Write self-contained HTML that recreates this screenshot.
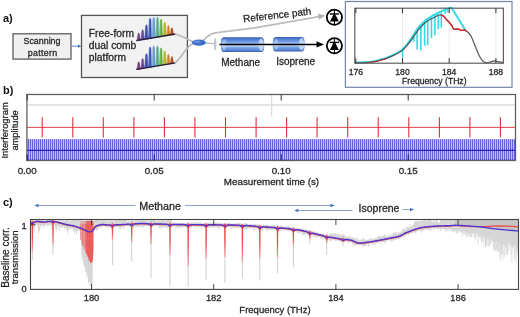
<!DOCTYPE html>
<html><head><meta charset="utf-8"><title>Dual comb spectroscopy figure</title>
<style>html,body{margin:0;padding:0;background:#fff;width:520px;height:317px;overflow:hidden}svg{display:block}text{stroke:#2a2a2a;stroke-width:0.28px}</style>
</head><body>
<svg width="520" height="317" viewBox="0 0 520 317"><defs>
<linearGradient id="cellg" x1="0" y1="0" x2="0" y2="1">
<stop offset="0" stop-color="#3a5cae"/><stop offset="0.08" stop-color="#4670c4"/><stop offset="0.2" stop-color="#5a88d8"/><stop offset="0.36" stop-color="#7ea6ea"/><stop offset="0.45" stop-color="#a0c2f2"/><stop offset="0.56" stop-color="#c4daf8"/><stop offset="0.63" stop-color="#a2c2f0"/><stop offset="0.72" stop-color="#70a0e2"/><stop offset="0.88" stop-color="#5a86d4"/><stop offset="0.95" stop-color="#4468b8"/><stop offset="1" stop-color="#3656a8"/>
</linearGradient>
<linearGradient id="redg" x1="0" y1="0" x2="0" y2="1"><stop offset="0" stop-color="#ee3a3a"/><stop offset="0.55" stop-color="#f05050"/><stop offset="1" stop-color="#f4a4a4"/></linearGradient>
<pattern id="stripes" x="0" y="0" width="2" height="30" patternUnits="userSpaceOnUse">
<rect width="2" height="30" fill="#c0c0f8"/><rect width="1" height="30" fill="#6464d8"/>
</pattern>
</defs><rect width="520" height="317" fill="#fff"/><text x="3" y="21.6" font-family="Liberation Sans, Arial, sans-serif" font-size="11" font-weight="bold" fill="#111" style="stroke:none">a)</text>
<rect x="13" y="33.8" width="58" height="25.3" fill="#f0f0f0" stroke="#5e5e5e" stroke-width="1.3"/>
<text x="42" y="44.3" font-family="Liberation Sans, Arial, sans-serif" font-size="8.9" fill="#222" text-anchor="middle">Scanning</text>
<text x="42.6" y="55.6" font-family="Liberation Sans, Arial, sans-serif" font-size="8.9" fill="#222" text-anchor="middle" letter-spacing="0.3">pattern</text>
<line x1="72" y1="46.2" x2="79" y2="46.2" stroke="#4a78c0" stroke-width="0.9"/>
<polygon points="81.3,46.2 78,44.6 78,47.8" fill="#3a6cc0"/>
<rect x="81.5" y="15.4" width="105.9" height="62.1" fill="#f2f2f2" stroke="#555" stroke-width="1.3"/>
<text x="88.8" y="36.6" font-family="Liberation Sans, Arial, sans-serif" font-size="10.3" fill="#222">Free-form</text>
<text x="88.8" y="48.6" font-family="Liberation Sans, Arial, sans-serif" font-size="10.3" fill="#222">dual comb</text>
<text x="88.8" y="60.6" font-family="Liberation Sans, Arial, sans-serif" font-size="10.3" fill="#222">platform</text>
<path d="M136.7,40.6 C137.3,38.1 137.5,36.4 137.8,34.4 Q138.7,31.2 139.6,34.4 C139.9,36.4 140.1,38.1 140.7,40.6 Z" fill="#7a4a7e" stroke="#7a4a7e" stroke-width="0.3"/><line x1="139.0" y1="33.9" x2="139.0" y2="40.1" stroke="#000" stroke-opacity="0.22" stroke-width="0.8"/><path d="M140.6,39.9 C141.2,37.4 141.4,33.0 141.7,31.0 Q142.6,27.8 143.5,31.0 C143.8,33.0 144.0,37.4 144.6,39.9 Z" fill="#7452a6" stroke="#7452a6" stroke-width="0.3"/><line x1="142.9" y1="30.5" x2="142.9" y2="39.4" stroke="#000" stroke-opacity="0.22" stroke-width="0.8"/><path d="M144.4,39.3 C145.0,36.8 145.2,28.2 145.5,26.2 Q146.4,23.0 147.3,26.2 C147.6,28.2 147.8,36.8 148.4,39.3 Z" fill="#4c56b6" stroke="#4c56b6" stroke-width="0.3"/><line x1="146.8" y1="25.7" x2="146.8" y2="38.8" stroke="#000" stroke-opacity="0.22" stroke-width="0.8"/><path d="M148.1,38.7 C148.7,36.2 148.9,21.5 149.2,19.5 Q150.1,16.3 151.0,19.5 C151.3,21.5 151.5,36.2 152.1,38.7 Z" fill="#4466c4" stroke="#4466c4" stroke-width="0.3"/><line x1="150.4" y1="19.0" x2="150.4" y2="38.2" stroke="#000" stroke-opacity="0.22" stroke-width="0.8"/><path d="M151.7,38.1 C152.3,35.6 152.5,20.5 152.8,18.5 Q153.7,15.3 154.6,18.5 C154.9,20.5 155.1,35.6 155.7,38.1 Z" fill="#7aa8e0" stroke="#7aa8e0" stroke-width="0.3"/><line x1="154.0" y1="18.0" x2="154.0" y2="37.6" stroke="#000" stroke-opacity="0.22" stroke-width="0.8"/><path d="M155.4,37.4 C156.0,34.9 156.2,20.5 156.5,18.5 Q157.4,15.3 158.3,18.5 C158.6,20.5 158.8,34.9 159.4,37.4 Z" fill="#62bc9c" stroke="#62bc9c" stroke-width="0.3"/><line x1="157.8" y1="18.0" x2="157.8" y2="36.9" stroke="#000" stroke-opacity="0.22" stroke-width="0.8"/><path d="M159.0,36.8 C159.6,34.3 159.8,22.4 160.1,20.4 Q161.0,17.2 161.9,20.4 C162.2,22.4 162.4,34.3 163.0,36.8 Z" fill="#78c058" stroke="#78c058" stroke-width="0.3"/><line x1="161.3" y1="19.9" x2="161.3" y2="36.3" stroke="#000" stroke-opacity="0.22" stroke-width="0.8"/><path d="M162.7,36.2 C163.3,33.7 163.5,25.3 163.8,23.3 Q164.7,20.1 165.6,23.3 C165.9,25.3 166.1,33.7 166.7,36.2 Z" fill="#bcc844" stroke="#bcc844" stroke-width="0.3"/><line x1="165.0" y1="22.8" x2="165.0" y2="35.7" stroke="#000" stroke-opacity="0.22" stroke-width="0.8"/><path d="M166.3,35.6 C166.9,33.1 167.1,28.7 167.4,26.7 Q168.3,23.5 169.2,26.7 C169.5,28.7 169.7,33.1 170.3,35.6 Z" fill="#e09a34" stroke="#e09a34" stroke-width="0.3"/><line x1="168.7" y1="26.2" x2="168.7" y2="35.1" stroke="#000" stroke-opacity="0.22" stroke-width="0.8"/><path d="M169.9,35.0 C170.5,32.5 170.7,31.1 171.0,29.1 Q171.9,25.9 172.8,29.1 C173.1,31.1 173.3,32.5 173.9,35.0 Z" fill="#c85430" stroke="#c85430" stroke-width="0.3"/><line x1="172.2" y1="28.6" x2="172.2" y2="34.5" stroke="#000" stroke-opacity="0.22" stroke-width="0.8"/><line x1="136.3" y1="40.6" x2="175.3" y2="34.0" stroke="#2a1a3a" stroke-width="1.3"/>
<path d="M136.7,69.4 C137.3,66.9 137.5,65.2 137.8,63.2 Q138.7,60.0 139.6,63.2 C139.9,65.2 140.1,66.9 140.7,69.4 Z" fill="#7a4a7e" stroke="#7a4a7e" stroke-width="0.3"/><line x1="139.0" y1="62.7" x2="139.0" y2="68.9" stroke="#000" stroke-opacity="0.22" stroke-width="0.8"/><path d="M140.6,68.7 C141.2,66.2 141.4,61.8 141.7,59.8 Q142.6,56.6 143.5,59.8 C143.8,61.8 144.0,66.2 144.6,68.7 Z" fill="#7452a6" stroke="#7452a6" stroke-width="0.3"/><line x1="142.9" y1="59.3" x2="142.9" y2="68.2" stroke="#000" stroke-opacity="0.22" stroke-width="0.8"/><path d="M144.4,68.1 C145.0,65.6 145.2,57.0 145.5,55.0 Q146.4,51.8 147.3,55.0 C147.6,57.0 147.8,65.6 148.4,68.1 Z" fill="#4c56b6" stroke="#4c56b6" stroke-width="0.3"/><line x1="146.8" y1="54.5" x2="146.8" y2="67.6" stroke="#000" stroke-opacity="0.22" stroke-width="0.8"/><path d="M148.1,67.5 C148.7,65.0 148.9,50.3 149.2,48.3 Q150.1,45.1 151.0,48.3 C151.3,50.3 151.5,65.0 152.1,67.5 Z" fill="#4466c4" stroke="#4466c4" stroke-width="0.3"/><line x1="150.4" y1="47.8" x2="150.4" y2="67.0" stroke="#000" stroke-opacity="0.22" stroke-width="0.8"/><path d="M151.7,66.9 C152.3,64.4 152.5,49.3 152.8,47.3 Q153.7,44.1 154.6,47.3 C154.9,49.3 155.1,64.4 155.7,66.9 Z" fill="#7aa8e0" stroke="#7aa8e0" stroke-width="0.3"/><line x1="154.0" y1="46.8" x2="154.0" y2="66.4" stroke="#000" stroke-opacity="0.22" stroke-width="0.8"/><path d="M155.4,66.2 C156.0,63.7 156.2,49.3 156.5,47.3 Q157.4,44.1 158.3,47.3 C158.6,49.3 158.8,63.7 159.4,66.2 Z" fill="#62bc9c" stroke="#62bc9c" stroke-width="0.3"/><line x1="157.8" y1="46.8" x2="157.8" y2="65.7" stroke="#000" stroke-opacity="0.22" stroke-width="0.8"/><path d="M159.0,65.6 C159.6,63.1 159.8,51.2 160.1,49.2 Q161.0,46.0 161.9,49.2 C162.2,51.2 162.4,63.1 163.0,65.6 Z" fill="#78c058" stroke="#78c058" stroke-width="0.3"/><line x1="161.3" y1="48.7" x2="161.3" y2="65.1" stroke="#000" stroke-opacity="0.22" stroke-width="0.8"/><path d="M162.7,65.0 C163.3,62.5 163.5,54.1 163.8,52.1 Q164.7,48.9 165.6,52.1 C165.9,54.1 166.1,62.5 166.7,65.0 Z" fill="#bcc844" stroke="#bcc844" stroke-width="0.3"/><line x1="165.0" y1="51.6" x2="165.0" y2="64.5" stroke="#000" stroke-opacity="0.22" stroke-width="0.8"/><path d="M166.3,64.4 C166.9,61.9 167.1,57.5 167.4,55.5 Q168.3,52.3 169.2,55.5 C169.5,57.5 169.7,61.9 170.3,64.4 Z" fill="#e09a34" stroke="#e09a34" stroke-width="0.3"/><line x1="168.7" y1="55.0" x2="168.7" y2="63.9" stroke="#000" stroke-opacity="0.22" stroke-width="0.8"/><path d="M169.9,63.8 C170.5,61.3 170.7,59.9 171.0,57.9 Q171.9,54.7 172.8,57.9 C173.1,59.9 173.3,61.3 173.9,63.8 Z" fill="#c85430" stroke="#c85430" stroke-width="0.3"/><line x1="172.2" y1="57.4" x2="172.2" y2="63.3" stroke="#000" stroke-opacity="0.22" stroke-width="0.8"/><line x1="136.3" y1="69.4" x2="175.3" y2="62.8" stroke="#2a1a3a" stroke-width="1.3"/>
<path d="M175,34 C183,36 188,40 193,41.6" fill="none" stroke="#bababa" stroke-width="1.7"/>
<path d="M175,62.8 C182,58 186,46 193,43.8" fill="none" stroke="#bababa" stroke-width="1.7"/>
<path d="M203,40.5 C208,36 211,33 217,32.6 L255,27.8 L319,16.6" fill="none" stroke="#bcbcbc" stroke-width="1.8"/>
<polygon points="325.5,15.6 317.8,13.4 319,19.8" fill="#b4b4b4"/>
<line x1="205" y1="43.2" x2="214" y2="43.6" stroke="#b8b8b8" stroke-width="1.3"/>
<ellipse cx="198.9" cy="42.6" rx="7" ry="3.1" fill="#3d6cc6"/>
<ellipse cx="197.5" cy="41.8" rx="3.5" ry="1.2" fill="#7aa0e0" opacity="0.7"/>
<ellipse cx="215.2" cy="44" rx="0.9" ry="6" fill="#c8ccd4" stroke="#9aa" stroke-width="0.4"/>
<path d="M223.7,37.3 L261.4,37.3 Q264.4,37.3 264.4,44.7 Q264.4,52.1 261.4,52.1 L223.7,52.1 Q220.7,52.1 220.7,44.7 Q220.7,37.3 223.7,37.3 Z" fill="url(#cellg)"/><ellipse cx="261.1" cy="44.7" rx="2.6" ry="6.2" fill="#d8e6fa" opacity="0.75"/><ellipse cx="224.2" cy="44.7" rx="2.2" ry="5.8" fill="#d8e6fa" opacity="0.45"/>
<path d="M275.6,36.9 L301.8,36.9 Q304.8,36.9 304.8,44.2 Q304.8,51.6 301.8,51.6 L275.6,51.6 Q272.6,51.6 272.6,44.2 Q272.6,36.9 275.6,36.9 Z" fill="url(#cellg)"/><ellipse cx="301.5" cy="44.2" rx="2.6" ry="6.2" fill="#d8e6fa" opacity="0.75"/><ellipse cx="276.1" cy="44.2" rx="2.2" ry="5.8" fill="#d8e6fa" opacity="0.45"/>
<line x1="219.5" y1="44.6" x2="318" y2="44.4" stroke="#000" stroke-width="1.5"/>
<polygon points="324,44.4 316.5,41.2 316.5,47.6" fill="#000"/>
<circle cx="334.4" cy="17.25" r="7.6" fill="#fff" stroke="#000" stroke-width="1.8"/><line x1="334.4" y1="9.65" x2="334.4" y2="24.85" stroke="#000" stroke-width="1.0"/><rect x="329.79999999999995" y="13.25" width="9.2" height="1.4" fill="#000"/><polygon points="333.4,14.65 335.4,14.65 338.9,21.45 329.9,21.45" fill="#000"/>
<circle cx="334.4" cy="45.7" r="7.6" fill="#fff" stroke="#000" stroke-width="1.8"/><line x1="334.4" y1="38.1" x2="334.4" y2="53.300000000000004" stroke="#000" stroke-width="1.0"/><rect x="329.79999999999995" y="41.7" width="9.2" height="1.4" fill="#000"/><polygon points="333.4,43.1 335.4,43.1 338.9,49.900000000000006 329.9,49.900000000000006" fill="#000"/>
<text x="0" y="0" font-family="Liberation Sans, Arial, sans-serif" font-size="10" fill="#222" transform="translate(243.6,22.3) rotate(-6.6)">Reference path</text>
<text x="221.2" y="66.2" font-family="Liberation Sans, Arial, sans-serif" font-size="10" fill="#222">Methane</text>
<text x="276.2" y="65.2" font-family="Liberation Sans, Arial, sans-serif" font-size="10" fill="#222">Isoprene</text>
<rect x="345.4" y="1.5" width="166.6" height="85.8" fill="#fff" stroke="#7484aa" stroke-width="1.2"/>
<line x1="402.5" y1="8.2" x2="402.5" y2="63.2" stroke="#e6e6e6" stroke-width="0.8"/>
<line x1="449.2" y1="8.2" x2="449.2" y2="63.2" stroke="#e6e6e6" stroke-width="0.8"/>
<line x1="495.9" y1="8.2" x2="495.9" y2="63.2" stroke="#e6e6e6" stroke-width="0.8"/>
<line x1="402.6" y1="49.0" x2="402.6" y2="57.5" stroke="#30dce6" stroke-width="1.6"/>
<line x1="413.7" y1="34.7" x2="413.7" y2="42.0" stroke="#30dce6" stroke-width="1.6"/>
<line x1="417.1" y1="29.4" x2="417.1" y2="49.6" stroke="#30dce6" stroke-width="1.6"/>
<line x1="420.9" y1="25.2" x2="420.9" y2="50.4" stroke="#30dce6" stroke-width="1.6"/>
<line x1="424.6" y1="21.3" x2="424.6" y2="45.8" stroke="#30dce6" stroke-width="1.6"/>
<line x1="427.7" y1="19.1" x2="427.7" y2="45.1" stroke="#30dce6" stroke-width="1.6"/>
<line x1="431.5" y1="16.5" x2="431.5" y2="38.3" stroke="#30dce6" stroke-width="1.6"/>
<line x1="434.9" y1="14.6" x2="434.9" y2="35.2" stroke="#30dce6" stroke-width="1.6"/>
<line x1="438.3" y1="12.9" x2="438.3" y2="29.2" stroke="#30dce6" stroke-width="1.6"/>
<line x1="441.3" y1="11.4" x2="441.3" y2="27.7" stroke="#30dce6" stroke-width="1.6"/>
<line x1="445.1" y1="9.7" x2="445.1" y2="14.0" stroke="#30dce6" stroke-width="1.6"/>
<line x1="447.6" y1="8.5" x2="447.6" y2="12.5" stroke="#30dce6" stroke-width="1.6"/>
<path d="M355.0,62.5 C356.7,62.5 361.7,62.5 365.0,62.3 C368.3,62.1 372.1,61.6 374.6,61.2 C377.1,60.8 377.7,60.5 380.0,59.8 C382.3,59.1 384.9,58.6 388.5,57.0 C392.1,55.4 398.0,53.0 401.6,50.2 C405.2,47.4 407.3,44.0 410.0,40.4 C412.7,36.8 415.1,31.9 417.6,28.6 C420.1,25.3 422.6,23.0 425.1,20.8 C427.6,18.6 430.2,17.2 432.7,15.7 C435.2,14.2 437.8,13.1 440.3,11.9 C442.8,10.7 446.0,9.1 447.9,8.4 C449.8,7.7 450.9,7.7 451.5,7.6 L465.4,30.3" fill="none" stroke="#30dce6" stroke-width="2.0"/>
<path d="M355.0,62.8 C356.7,62.8 361.7,62.8 365.0,62.6 C368.3,62.4 372.1,62.0 374.6,61.6 C377.1,61.2 377.7,60.9 380.0,60.2 C382.3,59.5 384.9,59.2 388.5,57.6 C392.1,56.0 398.0,53.5 401.6,50.9 C405.2,48.3 407.3,45.1 410.0,41.8 C412.7,38.5 415.1,34.1 417.6,30.9 C420.1,27.7 422.6,24.8 425.1,22.7 C427.6,20.6 430.5,19.4 432.7,18.2 C434.9,17.0 437.0,15.8 438.5,15.3 C440.0,14.8 440.6,14.8 441.5,15.0 C442.4,15.2 443.2,15.8 444.0,16.5 C444.8,17.2 445.7,18.6 446.5,19.5 C447.3,20.4 448.1,21.1 449.0,22.2 C449.9,23.3 451.2,24.8 452.0,26.0 C452.8,27.2 453.0,28.7 454.0,29.2 C455.0,29.7 456.5,28.8 457.8,29.0 C459.1,29.2 460.4,30.1 461.6,30.3 C462.8,30.5 463.9,30.0 464.8,30.2 C465.7,30.4 466.0,30.6 467.0,31.5 C468.0,32.4 469.4,33.2 470.8,35.8 C472.2,38.3 474.1,43.4 475.5,46.8 C476.9,50.2 478.2,53.8 479.5,56.3 C480.8,58.8 482.2,60.5 483.4,61.6 C484.6,62.7 485.5,62.5 486.6,62.6 C487.7,62.7 488.7,62.3 490.0,62.0 C491.3,61.7 493.0,60.9 494.5,60.9 C496.0,60.9 497.5,61.6 499.0,61.9 C500.5,62.2 502.6,62.6 503.3,62.7" fill="none" stroke="#555" stroke-width="1.2"/>
<path d="M441.5,15.0 C441.9,15.2 443.2,15.8 444.0,16.5 C444.8,17.2 445.7,18.6 446.5,19.5 C447.3,20.4 448.1,21.1 449.0,22.2 C449.9,23.3 451.2,24.8 452.0,26.0 C452.8,27.2 453.0,28.7 454.0,29.2 C455.0,29.7 456.5,28.8 457.8,29.0 C459.1,29.2 460.4,30.1 461.6,30.3 C462.8,30.5 463.9,30.0 464.8,30.2 C465.7,30.4 466.6,31.3 467.0,31.5" fill="none" stroke="#e02020" stroke-width="1.3"/>
<path d="M368,62.6 C375,62 380,61 386,58.8" fill="none" stroke="#e02020" stroke-width="1" opacity="0.7"/>
<rect x="354.8" y="8.2" width="148.6" height="55.0" fill="none" stroke="#606060" stroke-width="1.2"/>
<line x1="355.8" y1="8.2" x2="355.8" y2="13.2" stroke="#333" stroke-width="1"/>
<line x1="355.8" y1="63.2" x2="355.8" y2="58.2" stroke="#333" stroke-width="1"/>
<text x="355.8" y="75.2" font-family="Liberation Sans, Arial, sans-serif" font-size="8.6" fill="#222" text-anchor="middle">176</text>
<line x1="402.5" y1="8.2" x2="402.5" y2="13.2" stroke="#333" stroke-width="1"/>
<line x1="402.5" y1="63.2" x2="402.5" y2="58.2" stroke="#333" stroke-width="1"/>
<text x="402.5" y="75.2" font-family="Liberation Sans, Arial, sans-serif" font-size="8.6" fill="#222" text-anchor="middle">180</text>
<line x1="449.2" y1="8.2" x2="449.2" y2="13.2" stroke="#333" stroke-width="1"/>
<line x1="449.2" y1="63.2" x2="449.2" y2="58.2" stroke="#333" stroke-width="1"/>
<text x="449.2" y="75.2" font-family="Liberation Sans, Arial, sans-serif" font-size="8.6" fill="#222" text-anchor="middle">184</text>
<line x1="495.9" y1="8.2" x2="495.9" y2="13.2" stroke="#333" stroke-width="1"/>
<line x1="495.9" y1="63.2" x2="495.9" y2="58.2" stroke="#333" stroke-width="1"/>
<text x="495.9" y="75.2" font-family="Liberation Sans, Arial, sans-serif" font-size="8.6" fill="#222" text-anchor="middle">188</text>
<text x="434.3" y="84.2" font-family="Liberation Sans, Arial, sans-serif" font-size="8.6" fill="#222" text-anchor="middle">Frequency (THz)</text>
<text x="3" y="93.7" font-family="Liberation Sans, Arial, sans-serif" font-size="11" font-weight="bold" fill="#111" style="stroke:none">b)</text>
<line x1="26.9" y1="105.0" x2="515.5" y2="105.0" stroke="#dcdcdc" stroke-width="1.3"/>
<line x1="271.7" y1="94.5" x2="271.7" y2="116.5" stroke="#d0d0d0" stroke-width="0.9"/>
<line x1="26.9" y1="127.4" x2="515.5" y2="127.4" stroke="#e44650" stroke-width="1.0"/>
<line x1="42.2" y1="117.2" x2="42.2" y2="137.5" stroke="#dc3040" stroke-width="1.1"/>
<line x1="72.8" y1="117.2" x2="72.8" y2="137.5" stroke="#dc3040" stroke-width="1.1"/>
<line x1="103.3" y1="117.2" x2="103.3" y2="137.5" stroke="#dc3040" stroke-width="1.1"/>
<line x1="133.9" y1="117.2" x2="133.9" y2="137.5" stroke="#dc3040" stroke-width="1.1"/>
<line x1="164.4" y1="117.2" x2="164.4" y2="137.5" stroke="#dc3040" stroke-width="1.1"/>
<line x1="194.9" y1="117.2" x2="194.9" y2="137.5" stroke="#dc3040" stroke-width="1.1"/>
<line x1="225.5" y1="117.2" x2="225.5" y2="137.5" stroke="#dc3040" stroke-width="1.1"/>
<line x1="256.1" y1="117.2" x2="256.1" y2="137.5" stroke="#dc3040" stroke-width="1.1"/>
<line x1="286.6" y1="117.2" x2="286.6" y2="137.5" stroke="#dc3040" stroke-width="1.1"/>
<line x1="317.1" y1="117.2" x2="317.1" y2="137.5" stroke="#dc3040" stroke-width="1.1"/>
<line x1="347.7" y1="117.2" x2="347.7" y2="137.5" stroke="#dc3040" stroke-width="1.1"/>
<line x1="378.2" y1="117.2" x2="378.2" y2="137.5" stroke="#dc3040" stroke-width="1.1"/>
<line x1="408.8" y1="117.2" x2="408.8" y2="137.5" stroke="#dc3040" stroke-width="1.1"/>
<line x1="439.4" y1="117.2" x2="439.4" y2="137.5" stroke="#dc3040" stroke-width="1.1"/>
<line x1="469.9" y1="117.2" x2="469.9" y2="137.5" stroke="#dc3040" stroke-width="1.1"/>
<line x1="500.4" y1="117.2" x2="500.4" y2="137.5" stroke="#dc3040" stroke-width="1.1"/>
<rect x="26.9" y="139.1" width="488.6" height="21.4" fill="url(#stripes)"/>
<line x1="26.9" y1="150.3" x2="515.5" y2="150.3" stroke="#2424a4" stroke-width="1.2"/>
<line x1="26.9" y1="160.2" x2="515.5" y2="160.2" stroke="#3a3a80" stroke-width="1"/>
<rect x="26.9" y="94.5" width="488.6" height="66.0" fill="none" stroke="#5c5c5c" stroke-width="1.25"/>
<line x1="27.2" y1="94.5" x2="27.2" y2="100.5" stroke="#333" stroke-width="1"/>
<line x1="27.2" y1="160.5" x2="27.2" y2="154.5" stroke="#1a1a60" stroke-width="1"/>
<text x="27.2" y="173.9" font-family="Liberation Sans, Arial, sans-serif" font-size="9.8" fill="#222" text-anchor="middle">0.00</text>
<line x1="154.2" y1="94.5" x2="154.2" y2="100.5" stroke="#333" stroke-width="1"/>
<line x1="154.2" y1="160.5" x2="154.2" y2="154.5" stroke="#1a1a60" stroke-width="1"/>
<text x="154.2" y="173.9" font-family="Liberation Sans, Arial, sans-serif" font-size="9.8" fill="#222" text-anchor="middle">0.05</text>
<line x1="281.2" y1="94.5" x2="281.2" y2="100.5" stroke="#333" stroke-width="1"/>
<line x1="281.2" y1="160.5" x2="281.2" y2="154.5" stroke="#1a1a60" stroke-width="1"/>
<text x="281.2" y="173.9" font-family="Liberation Sans, Arial, sans-serif" font-size="9.8" fill="#222" text-anchor="middle">0.10</text>
<line x1="408.2" y1="94.5" x2="408.2" y2="100.5" stroke="#333" stroke-width="1"/>
<line x1="408.2" y1="160.5" x2="408.2" y2="154.5" stroke="#1a1a60" stroke-width="1"/>
<text x="408.2" y="173.9" font-family="Liberation Sans, Arial, sans-serif" font-size="9.8" fill="#222" text-anchor="middle">0.15</text>
<text x="271.5" y="184.9" font-family="Liberation Sans, Arial, sans-serif" font-size="9.8" fill="#222" text-anchor="middle">Measurement time (s)</text>
<text x="0" y="0" font-family="Liberation Sans, Arial, sans-serif" font-size="9.4" fill="#222" text-anchor="middle" transform="translate(8.4,130.4) rotate(-90)">Interferogram</text>
<text x="0" y="0" font-family="Liberation Sans, Arial, sans-serif" font-size="9.3" fill="#222" text-anchor="middle" transform="translate(18.3,130.4) rotate(-90)">amplitude</text>
<text x="3" y="206" font-family="Liberation Sans, Arial, sans-serif" font-size="11" font-weight="bold" fill="#111" style="stroke:none">c)</text>
<line x1="37" y1="205.5" x2="135.5" y2="205.5" stroke="#8498c4" stroke-width="0.9"/>
<polygon points="34.5,205.5 38.5,203.8 38.5,207.2" fill="#3a6cc0"/>
<line x1="185" y1="205.5" x2="331" y2="205.5" stroke="#8498c4" stroke-width="0.9"/>
<polygon points="334.5,205.5 330.5,203.8 330.5,207.2" fill="#3a6cc0"/>
<line x1="297" y1="210.5" x2="352.5" y2="210.5" stroke="#8498c4" stroke-width="0.9"/>
<polygon points="294.3,210.5 298.3,208.8 298.3,212.2" fill="#3a6cc0"/>
<line x1="402.5" y1="209.6" x2="411" y2="209.6" stroke="#8498c4" stroke-width="0.9"/>
<polygon points="414,209.6 410,207.9 410,211.3" fill="#3a6cc0"/>
<text x="139.3" y="209.6" font-family="Liberation Sans, Arial, sans-serif" font-size="10.7" fill="#222">Methane</text>
<text x="358.6" y="212.2" font-family="Liberation Sans, Arial, sans-serif" font-size="10.5" fill="#222">Isoprene</text>
<polygon points="31.1,220.1 31.9,220.1 32.7,220.1 33.5,220.5 34.3,220.1 35.1,220.3 35.9,220.1 36.7,220.2 37.5,220.1 38.3,220.1 39.1,220.1 39.9,220.1 40.7,220.1 41.5,220.1 42.3,220.1 43.1,220.1 43.9,220.1 44.7,221.0 45.5,220.6 46.3,220.1 47.1,220.1 47.9,220.1 48.7,221.1 49.5,220.1 50.3,220.1 51.1,220.1 51.9,220.1 52.7,220.5 53.5,220.3 54.3,220.6 55.1,220.1 55.9,220.3 56.7,222.0 57.5,220.1 58.3,220.8 59.1,220.1 59.9,220.1 60.7,221.1 61.5,221.5 62.3,220.1 63.1,220.5 63.9,220.1 64.7,221.4 65.5,220.1 66.3,220.1 67.1,220.1 67.9,220.1 68.7,220.1 69.5,222.0 70.3,220.1 71.1,220.7 71.9,220.1 72.7,220.1 73.5,220.1 74.3,221.0 75.1,220.1 75.9,220.1 76.7,220.1 77.5,220.1 78.3,220.1 79.1,220.1 79.9,220.1 80.7,220.1 81.5,221.0 82.3,220.1 83.1,220.1 83.9,222.0 84.7,220.1 85.5,220.1 86.3,221.2 87.1,220.1 87.9,220.1 88.7,220.1 89.5,220.1 90.3,220.1 91.1,222.0 91.9,220.1 92.7,220.1 93.5,221.2 94.3,220.7 95.1,220.1 95.9,220.1 96.7,220.1 97.5,220.1 98.3,220.1 99.1,220.1 99.9,220.4 100.7,220.3 101.5,220.6 102.3,220.1 103.1,220.1 103.9,220.1 104.7,220.1 105.5,220.3 106.3,221.3 107.1,220.1 107.9,220.1 108.7,221.8 109.5,220.1 110.3,220.1 111.1,220.1 111.9,220.4 112.7,220.1 113.5,221.7 114.3,220.1 115.1,220.6 115.9,220.1 116.7,220.1 117.5,220.4 118.3,220.1 119.1,220.1 119.9,220.1 120.7,220.1 121.5,220.1 122.3,220.1 123.1,220.1 123.9,220.1 124.7,220.1 125.5,220.1 126.3,220.1 127.1,222.0 127.9,220.1 128.7,220.1 129.5,221.8 130.3,221.1 131.1,220.1 131.9,220.1 132.7,220.1 133.5,220.2 134.3,221.6 135.1,220.1 135.9,220.5 136.7,220.1 137.5,220.3 138.3,220.1 139.1,220.1 139.9,220.7 140.7,220.1 141.5,220.1 142.3,220.1 143.1,220.1 143.9,220.1 144.7,220.4 145.5,220.1 146.3,220.1 147.1,220.1 147.9,221.4 148.7,220.1 149.5,220.7 150.3,220.1 151.1,220.1 151.9,220.1 152.7,220.1 153.5,220.1 154.3,220.1 155.1,220.1 155.9,221.6 156.7,220.5 157.5,220.9 158.3,220.2 159.1,220.1 159.9,222.0 160.7,220.1 161.5,220.1 162.3,220.1 163.1,221.0 163.9,220.1 164.7,220.1 165.5,221.6 166.3,220.1 167.1,220.1 167.9,220.1 168.7,220.1 169.5,220.1 170.3,220.1 171.1,220.1 171.9,220.1 172.7,223.2 173.5,221.6 174.3,223.2 175.1,222.6 175.9,222.2 176.7,223.2 177.5,222.8 178.3,223.2 179.1,222.8 179.9,222.0 180.7,222.7 181.5,223.4 182.3,222.5 183.1,222.7 183.9,223.3 184.7,222.9 185.5,222.5 186.3,223.0 187.1,222.1 187.9,222.6 188.7,222.8 189.5,223.0 190.3,222.0 191.1,222.3 191.9,222.1 192.7,223.3 193.5,222.0 194.3,222.7 195.1,221.9 195.9,221.9 196.7,222.8 197.5,222.0 198.3,222.2 199.1,222.2 199.9,222.7 200.7,222.0 201.5,223.6 202.3,222.5 203.1,222.9 203.9,223.6 204.7,222.3 205.5,222.8 206.3,222.9 207.1,222.4 207.9,222.8 208.7,222.2 209.5,223.4 210.3,222.1 211.1,223.6 211.9,222.1 212.7,222.8 213.5,222.8 214.3,222.1 215.1,222.4 215.9,223.1 216.7,222.2 217.5,223.1 218.3,222.7 219.1,223.5 219.9,222.6 220.7,223.3 221.5,223.1 222.3,223.4 223.1,223.7 223.9,222.8 224.7,223.7 225.5,223.8 226.3,223.2 227.1,223.3 227.9,222.7 228.7,223.1 229.5,222.6 230.3,223.8 231.1,222.9 231.9,224.0 232.7,224.1 233.5,222.8 234.3,223.7 235.1,222.9 235.9,223.2 236.7,223.7 237.5,222.6 238.3,222.9 239.1,222.7 239.9,223.1 240.7,223.5 241.5,223.5 242.3,224.0 243.1,224.3 243.9,224.1 244.7,223.1 245.5,223.0 246.3,222.9 247.1,224.2 247.9,223.5 248.7,224.5 249.5,224.2 250.3,223.5 251.1,224.0 251.9,224.2 252.7,223.7 253.5,224.9 254.3,223.8 255.1,223.8 255.9,223.8 256.7,224.9 257.5,224.3 258.3,224.0 259.1,224.8 259.9,225.2 260.7,225.0 261.5,224.7 262.3,225.1 263.1,224.4 263.9,224.8 264.7,225.4 265.5,224.4 266.3,225.0 267.1,224.3 267.9,225.4 268.7,225.3 269.5,225.8 270.3,225.0 271.1,226.0 271.9,224.7 272.7,225.6 273.5,225.0 274.3,225.3 275.1,226.3 275.9,225.4 276.7,225.5 277.5,226.3 278.3,225.8 279.1,225.4 279.9,225.8 280.7,225.8 281.5,225.3 282.3,225.7 283.1,227.0 283.9,226.4 284.7,226.8 285.5,226.4 286.3,227.0 287.1,226.3 287.9,225.8 288.7,226.1 289.5,227.4 290.3,227.3 291.1,227.5 291.9,227.5 292.7,227.0 293.5,226.7 294.3,226.9 295.1,228.4 295.9,228.1 296.7,228.1 297.5,228.5 298.3,227.7 299.1,228.7 299.9,228.4 300.7,228.9 301.5,228.6 302.3,228.6 303.1,228.8 303.9,229.2 304.7,230.1 305.5,229.7 306.3,228.9 307.1,230.1 307.9,230.0 308.7,230.3 309.5,229.8 310.3,230.6 311.1,231.1 311.9,230.7 312.7,231.1 313.5,231.9 314.3,231.1 315.1,231.5 315.9,232.5 316.7,232.9 317.5,232.1 318.3,232.5 319.1,233.1 319.9,233.8 320.7,233.0 321.5,233.5 322.3,233.6 323.1,234.3 323.9,233.1 324.7,235.0 325.5,234.8 326.3,233.8 327.1,234.7 327.9,234.4 328.7,235.6 329.5,234.4 330.3,233.8 331.1,233.3 331.9,233.0 332.7,234.6 333.5,233.2 334.3,233.3 335.1,233.3 335.9,233.4 336.7,235.4 337.5,233.7 338.3,233.9 339.1,234.2 339.9,236.4 340.7,234.5 341.5,234.8 342.3,234.7 343.1,234.6 343.9,234.5 344.7,235.5 345.5,236.3 346.3,237.0 347.1,237.2 347.9,235.9 348.7,237.6 349.5,236.1 350.3,235.2 351.1,237.5 351.9,238.3 352.7,237.5 353.5,237.3 354.3,237.7 355.1,238.5 355.9,239.4 356.7,237.6 357.5,238.3 358.3,240.8 359.1,238.9 359.9,240.6 360.7,239.4 361.5,238.8 362.3,240.6 363.1,238.1 363.9,237.9 364.7,239.6 365.5,240.0 366.3,239.9 367.1,239.7 367.9,239.6 368.7,239.6 369.5,239.2 370.3,239.1 371.1,236.8 371.9,239.3 372.7,239.3 373.5,239.2 374.3,237.8 375.1,238.5 375.9,238.2 376.7,237.8 377.5,236.1 378.3,236.2 379.1,235.8 379.9,236.6 380.7,235.3 381.5,237.3 382.3,236.0 383.1,235.3 383.9,235.2 384.7,234.5 385.5,235.4 386.3,236.3 387.1,236.6 387.9,236.5 388.7,234.2 389.5,236.1 390.3,235.2 391.1,234.1 391.9,235.2 392.7,233.7 393.5,231.8 394.3,233.5 395.1,231.2 395.9,232.4 396.7,232.5 397.5,233.7 398.3,233.3 399.1,230.9 399.9,233.1 400.7,231.6 401.5,231.3 402.3,230.6 403.1,228.6 403.9,228.8 404.7,229.3 405.5,230.0 406.3,226.8 407.1,227.1 407.9,227.6 408.7,226.8 409.5,227.4 410.3,222.2 411.1,227.9 411.9,225.4 412.7,226.2 413.5,225.0 414.3,221.0 415.1,221.4 415.9,221.3 416.7,220.5 417.5,221.7 418.3,221.1 419.1,220.1 419.9,222.4 420.7,221.1 421.5,220.2 422.3,220.1 423.1,221.1 423.9,220.3 424.7,220.1 425.5,221.0 426.3,220.1 427.1,220.8 427.9,220.1 428.7,220.1 429.5,220.1 430.3,220.1 431.1,220.1 431.9,222.3 432.7,221.8 433.5,220.1 434.3,220.1 435.1,223.6 435.9,220.1 436.7,220.6 437.5,220.1 438.3,222.3 439.1,222.8 439.9,221.4 440.7,220.1 441.5,220.1 442.3,220.1 443.1,220.1 443.9,220.1 444.7,220.1 445.5,220.1 446.3,220.1 447.1,220.1 447.9,220.1 448.7,220.1 449.5,220.1 450.3,220.1 451.1,220.1 451.9,220.1 452.7,220.1 453.5,220.1 454.3,220.1 455.1,220.1 455.9,220.1 456.7,220.1 457.5,220.1 458.3,220.1 459.1,220.1 459.9,220.1 460.7,220.1 461.5,220.1 462.3,220.1 463.1,220.1 463.9,220.1 464.7,220.1 465.5,220.1 466.3,220.1 467.1,220.1 467.9,220.1 468.7,220.1 469.5,220.1 470.3,220.1 471.1,220.1 471.9,220.1 472.7,220.1 473.5,220.1 474.3,220.1 475.1,220.1 475.9,220.1 476.7,220.1 477.5,220.1 478.3,220.1 479.1,220.1 479.9,220.1 480.7,220.1 481.5,220.1 482.3,220.1 483.1,220.1 483.9,220.1 484.7,220.1 485.5,220.1 486.3,220.1 487.1,220.1 487.9,220.1 488.7,220.1 489.5,220.1 490.3,220.1 491.1,220.1 491.9,220.1 492.7,220.1 493.5,220.1 494.3,220.1 495.1,220.1 495.9,220.1 496.7,220.1 497.5,220.1 498.3,220.1 499.1,220.1 499.9,220.1 500.7,220.1 501.5,220.1 502.3,220.1 503.1,220.1 503.9,220.1 504.7,220.1 505.5,220.1 506.3,220.1 507.1,220.1 507.9,220.1 508.7,220.1 509.5,220.1 510.3,220.1 511.1,220.1 511.9,220.1 512.7,220.1 513.5,220.1 514.3,220.1 515.1,220.1 515.9,220.1 516.7,220.1 517.5,220.1 518.3,220.1 518.3,249.8 517.5,252.1 516.7,246.6 515.9,250.6 515.1,243.5 514.3,246.9 513.5,246.1 512.7,248.4 511.9,249.9 511.1,242.7 510.3,248.2 509.5,243.6 508.7,242.5 507.9,245.6 507.1,245.3 506.3,244.3 505.5,247.7 504.7,246.1 503.9,244.5 503.1,244.3 502.3,243.8 501.5,246.1 500.7,247.6 499.9,243.8 499.1,242.0 498.3,241.9 497.5,243.2 496.7,239.6 495.9,242.1 495.1,243.3 494.3,242.4 493.5,240.2 492.7,241.8 491.9,241.8 491.1,238.4 490.3,238.5 489.5,238.4 488.7,239.2 487.9,238.4 487.1,239.6 486.3,237.7 485.5,239.9 484.7,239.1 483.9,237.0 483.1,236.2 482.3,236.1 481.5,236.2 480.7,235.5 479.9,237.1 479.1,234.5 478.3,239.6 477.5,233.5 476.7,234.2 475.9,233.1 475.1,235.4 474.3,233.5 473.5,232.9 472.7,234.2 471.9,233.4 471.1,232.8 470.3,233.0 469.5,232.9 468.7,232.1 467.9,232.0 467.1,232.7 466.3,232.3 465.5,232.1 464.7,232.1 463.9,231.4 463.1,231.1 462.3,234.2 461.5,230.3 460.7,230.7 459.9,230.0 459.1,230.5 458.3,229.7 457.5,231.2 456.7,231.4 455.9,229.5 455.1,230.8 454.3,229.8 453.5,230.1 452.7,230.2 451.9,229.2 451.1,229.5 450.3,229.0 449.5,229.8 448.7,228.6 447.9,230.6 447.1,229.6 446.3,229.1 445.5,231.5 444.7,229.7 443.9,228.4 443.1,228.5 442.3,229.5 441.5,228.5 440.7,231.1 439.9,230.8 439.1,227.6 438.3,229.3 437.5,228.9 436.7,228.9 435.9,228.0 435.1,228.3 434.3,229.3 433.5,229.7 432.7,228.2 431.9,228.5 431.1,230.0 430.3,231.8 429.5,228.5 428.7,230.2 427.9,230.2 427.1,229.2 426.3,229.8 425.5,229.3 424.7,229.7 423.9,230.6 423.1,230.8 422.3,230.6 421.5,233.0 420.7,231.1 419.9,230.2 419.1,230.3 418.3,230.7 417.5,231.0 416.7,231.5 415.9,235.0 415.1,232.3 414.3,232.8 413.5,232.1 412.7,233.6 411.9,232.9 411.1,234.0 410.3,233.2 409.5,234.0 408.7,235.4 407.9,234.0 407.1,234.9 406.3,235.4 405.5,235.5 404.7,235.7 403.9,236.7 403.1,237.6 402.3,236.7 401.5,237.5 400.7,237.9 399.9,238.5 399.1,239.3 398.3,239.8 397.5,238.9 396.7,239.4 395.9,240.3 395.1,240.1 394.3,239.6 393.5,240.4 392.7,240.7 391.9,240.8 391.1,242.8 390.3,239.8 389.5,239.9 388.7,240.1 387.9,241.2 387.1,240.4 386.3,240.5 385.5,244.5 384.7,242.5 383.9,241.5 383.1,242.6 382.3,242.0 381.5,242.0 380.7,244.4 379.9,241.6 379.1,242.4 378.3,242.7 377.5,243.2 376.7,242.6 375.9,244.3 375.1,242.8 374.3,244.4 373.5,244.4 372.7,244.4 371.9,244.4 371.1,243.3 370.3,243.9 369.5,244.3 368.7,248.1 367.9,244.6 367.1,244.2 366.3,245.6 365.5,246.5 364.7,245.7 363.9,245.8 363.1,247.3 362.3,246.1 361.5,244.3 360.7,244.7 359.9,245.1 359.1,245.1 358.3,244.7 357.5,245.5 356.7,245.6 355.9,243.6 355.1,247.0 354.3,244.2 353.5,246.3 352.7,244.2 351.9,242.2 351.1,241.9 350.3,243.0 349.5,241.9 348.7,243.2 347.9,241.8 347.1,242.3 346.3,241.0 345.5,242.0 344.7,241.7 343.9,242.4 343.1,242.1 342.3,242.1 341.5,241.3 340.7,242.1 339.9,241.3 339.1,241.5 338.3,241.1 337.5,239.9 336.7,240.5 335.9,241.2 335.1,240.2 334.3,240.5 333.5,239.8 332.7,239.1 331.9,240.7 331.1,240.0 330.3,242.3 329.5,240.5 328.7,238.9 327.9,240.1 327.1,239.9 326.3,241.2 325.5,237.8 324.7,238.9 323.9,237.5 323.1,239.2 322.3,239.7 321.5,237.9 320.7,238.4 319.9,237.9 319.1,237.0 318.3,236.5 317.5,236.5 316.7,238.3 315.9,236.7 315.1,236.6 314.3,236.8 313.5,236.6 312.7,234.7 311.9,238.1 311.1,234.8 310.3,235.9 309.5,234.6 308.7,234.7 307.9,234.9 307.1,234.9 306.3,233.1 305.5,234.8 304.7,233.9 303.9,236.3 303.1,233.6 302.3,236.3 301.5,232.2 300.7,232.1 299.9,233.4 299.1,232.9 298.3,233.2 297.5,233.1 296.7,231.5 295.9,232.0 295.1,231.0 294.3,231.1 293.5,230.8 292.7,231.9 291.9,231.1 291.1,230.4 290.3,231.0 289.5,231.8 288.7,231.0 287.9,230.7 287.1,230.9 286.3,230.1 285.5,230.3 284.7,230.2 283.9,230.5 283.1,230.2 282.3,229.8 281.5,229.9 280.7,231.1 279.9,230.4 279.1,231.2 278.3,232.8 277.5,230.5 276.7,229.9 275.9,229.5 275.1,229.8 274.3,229.8 273.5,230.3 272.7,229.3 271.9,229.7 271.1,230.0 270.3,229.7 269.5,230.6 268.7,229.0 267.9,230.5 267.1,232.9 266.3,228.8 265.5,229.5 264.7,228.8 263.9,228.6 263.1,228.6 262.3,231.4 261.5,229.7 260.7,229.9 259.9,228.6 259.1,232.5 258.3,229.2 257.5,228.1 256.7,229.2 255.9,228.3 255.1,228.1 254.3,231.1 253.5,229.2 252.7,228.6 251.9,228.3 251.1,229.1 250.3,228.1 249.5,228.9 248.7,227.4 247.9,228.8 247.1,229.8 246.3,228.8 245.5,228.6 244.7,230.1 243.9,229.0 243.1,227.1 242.3,230.8 241.5,228.3 240.7,228.5 239.9,228.2 239.1,227.4 238.3,228.6 237.5,226.8 236.7,228.0 235.9,227.6 235.1,228.4 234.3,226.7 233.5,227.5 232.7,228.3 231.9,228.4 231.1,229.1 230.3,226.9 229.5,226.6 228.7,227.3 227.9,227.0 227.1,227.8 226.3,228.9 225.5,227.7 224.7,228.3 223.9,226.8 223.1,227.1 222.3,227.7 221.5,227.4 220.7,226.8 219.9,228.3 219.1,230.2 218.3,227.0 217.5,227.9 216.7,226.5 215.9,228.0 215.1,226.5 214.3,227.6 213.5,227.4 212.7,228.1 211.9,226.8 211.1,226.9 210.3,226.6 209.5,228.2 208.7,228.2 207.9,227.0 207.1,227.8 206.3,229.1 205.5,227.7 204.7,227.7 203.9,227.4 203.1,227.5 202.3,226.8 201.5,229.6 200.7,226.2 199.9,227.7 199.1,226.5 198.3,226.6 197.5,227.4 196.7,226.2 195.9,229.3 195.1,226.3 194.3,226.4 193.5,226.3 192.7,226.1 191.9,226.9 191.1,229.2 190.3,228.1 189.5,227.2 188.7,226.6 187.9,227.8 187.1,227.5 186.3,228.3 185.5,227.3 184.7,226.3 183.9,227.2 183.1,226.5 182.3,227.9 181.5,227.2 180.7,227.6 179.9,227.3 179.1,228.0 178.3,227.7 177.5,228.2 176.7,227.6 175.9,227.4 175.1,226.3 174.3,226.1 173.5,227.6 172.7,225.9 171.9,228.2 171.1,226.4 170.3,227.2 169.5,226.7 168.7,227.6 167.9,228.3 167.1,228.5 166.3,226.9 165.5,227.4 164.7,225.9 163.9,228.6 163.1,226.3 162.3,227.2 161.5,230.3 160.7,226.2 159.9,229.0 159.1,227.5 158.3,226.2 157.5,225.9 156.7,226.2 155.9,226.0 155.1,226.0 154.3,226.8 153.5,226.2 152.7,227.1 151.9,226.6 151.1,226.7 150.3,226.2 149.5,226.1 148.7,226.0 147.9,226.8 147.1,226.4 146.3,225.2 145.5,226.4 144.7,226.1 143.9,226.8 143.1,227.4 142.3,227.2 141.5,225.9 140.7,225.5 139.9,228.5 139.1,226.2 138.3,226.9 137.5,226.6 136.7,227.2 135.9,227.1 135.1,226.4 134.3,227.3 133.5,228.6 132.7,226.3 131.9,226.5 131.1,227.1 130.3,225.9 129.5,226.1 128.7,226.4 127.9,226.4 127.1,227.1 126.3,225.7 125.5,226.1 124.7,227.3 123.9,227.3 123.1,230.3 122.3,226.4 121.5,226.9 120.7,229.3 119.9,229.7 119.1,227.5 118.3,227.0 117.5,226.6 116.7,227.7 115.9,227.2 115.1,227.6 114.3,226.3 113.5,227.7 112.7,227.5 111.9,229.5 111.1,227.6 110.3,227.9 109.5,226.6 108.7,228.1 107.9,226.6 107.1,228.0 106.3,227.3 105.5,227.0 104.7,226.5 103.9,226.1 103.1,226.6 102.3,226.6 101.5,226.7 100.7,228.0 99.9,226.7 99.1,228.1 98.3,229.0 97.5,228.9 96.7,231.8 95.9,229.2 95.1,229.0 94.3,230.4 93.5,232.0 92.7,232.8 91.9,232.5 91.1,234.3 90.3,235.3 89.5,236.3 88.7,234.8 87.9,233.2 87.1,232.7 86.3,234.1 85.5,232.2 84.7,231.8 83.9,231.9 83.1,234.7 82.3,231.9 81.5,230.1 80.7,231.6 79.9,231.2 79.1,230.2 78.3,229.9 77.5,231.4 76.7,236.6 75.9,230.2 75.1,230.5 74.3,235.8 73.5,229.4 72.7,229.5 71.9,227.9 71.1,228.1 70.3,229.9 69.5,229.0 68.7,228.0 67.9,236.6 67.1,229.9 66.3,229.4 65.5,226.8 64.7,228.8 63.9,227.3 63.1,226.2 62.3,228.3 61.5,228.1 60.7,226.3 59.9,227.2 59.1,232.9 58.3,224.9 57.5,227.1 56.7,230.5 55.9,232.3 55.1,226.6 54.3,224.5 53.5,232.2 52.7,224.0 51.9,230.0 51.1,225.5 50.3,225.1 49.5,225.0 48.7,225.2 47.9,228.0 47.1,224.4 46.3,225.3 45.5,224.9 44.7,224.9 43.9,229.9 43.1,224.2 42.3,226.4 41.5,225.9 40.7,226.0 39.9,230.3 39.1,234.6 38.3,230.8 37.5,225.2 36.7,224.1 35.9,225.5 35.1,224.7 34.3,234.6 33.5,225.9 32.7,228.2 31.9,230.0 31.1,224.9" fill="#d6d6d6"/>
<polygon points="455.0,220.1 455.0,224.9 458.0,224.8 461.0,225.0 464.0,225.2 467.0,225.5 470.0,225.7 473.0,225.9 476.0,226.1 479.0,226.3 482.0,226.6 485.0,227.0 488.0,227.4 491.0,227.8 494.0,228.2 497.0,228.6 500.0,228.8 503.0,229.1 506.0,229.4 509.0,229.7 512.0,229.9 515.0,230.2 518.0,230.5 518.0,220.1" fill="#c6c6c6"/>
<line x1="438.3" y1="228.8" x2="438.3" y2="229.3" stroke="#d4d4d4" stroke-width="0.8"/>
<line x1="439.1" y1="227.1" x2="439.1" y2="227.6" stroke="#d4d4d4" stroke-width="0.8"/>
<line x1="439.9" y1="230.3" x2="439.9" y2="230.9" stroke="#d4d4d4" stroke-width="0.8"/>
<line x1="441.5" y1="228.0" x2="441.5" y2="228.8" stroke="#d4d4d4" stroke-width="0.8"/>
<line x1="443.1" y1="228.0" x2="443.1" y2="229.1" stroke="#d4d4d4" stroke-width="0.8"/>
<line x1="443.9" y1="227.9" x2="443.9" y2="228.8" stroke="#d4d4d4" stroke-width="0.8"/>
<line x1="444.7" y1="229.2" x2="444.7" y2="230.2" stroke="#d4d4d4" stroke-width="0.8"/>
<line x1="445.5" y1="231.0" x2="445.5" y2="231.9" stroke="#d4d4d4" stroke-width="0.8"/>
<line x1="446.3" y1="228.6" x2="446.3" y2="229.6" stroke="#d4d4d4" stroke-width="0.8"/>
<line x1="447.1" y1="229.1" x2="447.1" y2="230.2" stroke="#d4d4d4" stroke-width="0.8"/>
<line x1="447.9" y1="230.1" x2="447.9" y2="231.5" stroke="#d4d4d4" stroke-width="0.8"/>
<line x1="448.7" y1="228.1" x2="448.7" y2="229.7" stroke="#d4d4d4" stroke-width="0.8"/>
<line x1="449.5" y1="229.3" x2="449.5" y2="230.8" stroke="#d4d4d4" stroke-width="0.8"/>
<line x1="451.1" y1="229.0" x2="451.1" y2="230.9" stroke="#d4d4d4" stroke-width="0.8"/>
<line x1="451.9" y1="228.7" x2="451.9" y2="230.4" stroke="#d4d4d4" stroke-width="0.8"/>
<line x1="452.7" y1="229.7" x2="452.7" y2="232.0" stroke="#d4d4d4" stroke-width="0.8"/>
<line x1="453.5" y1="229.6" x2="453.5" y2="232.1" stroke="#d4d4d4" stroke-width="0.8"/>
<line x1="454.3" y1="229.3" x2="454.3" y2="231.1" stroke="#d4d4d4" stroke-width="0.8"/>
<line x1="455.1" y1="230.3" x2="455.1" y2="232.8" stroke="#d4d4d4" stroke-width="0.8"/>
<line x1="455.9" y1="229.0" x2="455.9" y2="231.0" stroke="#d4d4d4" stroke-width="0.8"/>
<line x1="456.7" y1="230.9" x2="456.7" y2="233.7" stroke="#d4d4d4" stroke-width="0.8"/>
<line x1="457.5" y1="230.7" x2="457.5" y2="233.4" stroke="#d4d4d4" stroke-width="0.8"/>
<line x1="458.3" y1="229.2" x2="458.3" y2="232.0" stroke="#d4d4d4" stroke-width="0.8"/>
<line x1="459.9" y1="229.5" x2="459.9" y2="232.6" stroke="#d4d4d4" stroke-width="0.8"/>
<line x1="460.7" y1="230.2" x2="460.7" y2="232.2" stroke="#d4d4d4" stroke-width="0.8"/>
<line x1="461.5" y1="229.8" x2="461.5" y2="232.6" stroke="#d4d4d4" stroke-width="0.8"/>
<line x1="462.3" y1="233.7" x2="462.3" y2="236.7" stroke="#d4d4d4" stroke-width="0.8"/>
<line x1="463.1" y1="230.6" x2="463.1" y2="234.5" stroke="#d4d4d4" stroke-width="0.8"/>
<line x1="464.7" y1="231.6" x2="464.7" y2="234.2" stroke="#d4d4d4" stroke-width="0.8"/>
<line x1="465.5" y1="231.6" x2="465.5" y2="234.5" stroke="#d4d4d4" stroke-width="0.8"/>
<line x1="466.3" y1="231.8" x2="466.3" y2="236.3" stroke="#d4d4d4" stroke-width="0.8"/>
<line x1="467.1" y1="232.2" x2="467.1" y2="237.6" stroke="#d4d4d4" stroke-width="0.8"/>
<line x1="467.9" y1="231.5" x2="467.9" y2="234.7" stroke="#d4d4d4" stroke-width="0.8"/>
<line x1="468.7" y1="231.6" x2="468.7" y2="234.2" stroke="#d4d4d4" stroke-width="0.8"/>
<line x1="469.5" y1="232.4" x2="469.5" y2="237.5" stroke="#d4d4d4" stroke-width="0.8"/>
<line x1="470.3" y1="232.5" x2="470.3" y2="236.2" stroke="#d4d4d4" stroke-width="0.8"/>
<line x1="471.1" y1="232.3" x2="471.1" y2="237.2" stroke="#d4d4d4" stroke-width="0.8"/>
<line x1="471.9" y1="232.9" x2="471.9" y2="237.0" stroke="#d4d4d4" stroke-width="0.8"/>
<line x1="474.3" y1="233.0" x2="474.3" y2="237.7" stroke="#d4d4d4" stroke-width="0.8"/>
<line x1="475.1" y1="234.9" x2="475.1" y2="240.5" stroke="#d4d4d4" stroke-width="0.8"/>
<line x1="475.9" y1="232.6" x2="475.9" y2="236.3" stroke="#d4d4d4" stroke-width="0.8"/>
<line x1="476.7" y1="233.7" x2="476.7" y2="238.2" stroke="#d4d4d4" stroke-width="0.8"/>
<line x1="478.3" y1="239.1" x2="478.3" y2="244.7" stroke="#d4d4d4" stroke-width="0.8"/>
<line x1="479.1" y1="234.0" x2="479.1" y2="237.7" stroke="#d4d4d4" stroke-width="0.8"/>
<line x1="480.7" y1="235.0" x2="480.7" y2="239.0" stroke="#d4d4d4" stroke-width="0.8"/>
<line x1="481.5" y1="235.7" x2="481.5" y2="242.1" stroke="#d4d4d4" stroke-width="0.8"/>
<line x1="482.3" y1="235.6" x2="482.3" y2="242.4" stroke="#d4d4d4" stroke-width="0.8"/>
<line x1="483.9" y1="236.5" x2="483.9" y2="245.2" stroke="#d4d4d4" stroke-width="0.8"/>
<line x1="485.5" y1="239.4" x2="485.5" y2="248.4" stroke="#d4d4d4" stroke-width="0.8"/>
<line x1="486.3" y1="237.2" x2="486.3" y2="245.9" stroke="#d4d4d4" stroke-width="0.8"/>
<line x1="487.1" y1="239.1" x2="487.1" y2="245.8" stroke="#d4d4d4" stroke-width="0.8"/>
<line x1="488.7" y1="238.7" x2="488.7" y2="247.1" stroke="#d4d4d4" stroke-width="0.8"/>
<line x1="489.5" y1="237.9" x2="489.5" y2="246.1" stroke="#d4d4d4" stroke-width="0.8"/>
<line x1="490.3" y1="238.0" x2="490.3" y2="244.6" stroke="#d4d4d4" stroke-width="0.8"/>
<line x1="491.1" y1="237.9" x2="491.1" y2="244.2" stroke="#d4d4d4" stroke-width="0.8"/>
<line x1="493.5" y1="239.7" x2="493.5" y2="249.5" stroke="#d4d4d4" stroke-width="0.8"/>
<line x1="494.3" y1="241.9" x2="494.3" y2="250.7" stroke="#d4d4d4" stroke-width="0.8"/>
<line x1="495.1" y1="242.8" x2="495.1" y2="250.2" stroke="#d4d4d4" stroke-width="0.8"/>
<line x1="495.9" y1="241.6" x2="495.9" y2="251.5" stroke="#d4d4d4" stroke-width="0.8"/>
<line x1="496.7" y1="239.1" x2="496.7" y2="248.7" stroke="#d4d4d4" stroke-width="0.8"/>
<line x1="497.5" y1="242.7" x2="497.5" y2="251.3" stroke="#d4d4d4" stroke-width="0.8"/>
<line x1="498.3" y1="241.4" x2="498.3" y2="252.0" stroke="#d4d4d4" stroke-width="0.8"/>
<line x1="499.1" y1="241.5" x2="499.1" y2="251.4" stroke="#d4d4d4" stroke-width="0.8"/>
<line x1="499.9" y1="243.3" x2="499.9" y2="257.0" stroke="#d4d4d4" stroke-width="0.8"/>
<line x1="500.7" y1="247.1" x2="500.7" y2="261.0" stroke="#d4d4d4" stroke-width="0.8"/>
<line x1="501.5" y1="245.6" x2="501.5" y2="254.0" stroke="#d4d4d4" stroke-width="0.8"/>
<line x1="502.3" y1="243.3" x2="502.3" y2="253.9" stroke="#d4d4d4" stroke-width="0.8"/>
<line x1="503.1" y1="243.8" x2="503.1" y2="258.7" stroke="#d4d4d4" stroke-width="0.8"/>
<line x1="504.7" y1="245.6" x2="504.7" y2="257.0" stroke="#d4d4d4" stroke-width="0.8"/>
<line x1="506.3" y1="243.8" x2="506.3" y2="254.7" stroke="#d4d4d4" stroke-width="0.8"/>
<line x1="507.1" y1="244.8" x2="507.1" y2="255.0" stroke="#d4d4d4" stroke-width="0.8"/>
<line x1="507.9" y1="245.1" x2="507.9" y2="253.6" stroke="#d4d4d4" stroke-width="0.8"/>
<line x1="508.7" y1="242.0" x2="508.7" y2="250.7" stroke="#d4d4d4" stroke-width="0.8"/>
<line x1="511.1" y1="242.2" x2="511.1" y2="254.9" stroke="#d4d4d4" stroke-width="0.8"/>
<line x1="511.9" y1="249.4" x2="511.9" y2="263.1" stroke="#d4d4d4" stroke-width="0.8"/>
<line x1="514.3" y1="246.4" x2="514.3" y2="259.3" stroke="#d4d4d4" stroke-width="0.8"/>
<line x1="515.1" y1="243.0" x2="515.1" y2="252.0" stroke="#d4d4d4" stroke-width="0.8"/>
<line x1="515.9" y1="250.1" x2="515.9" y2="263.1" stroke="#d4d4d4" stroke-width="0.8"/>
<line x1="516.7" y1="246.1" x2="516.7" y2="256.4" stroke="#d4d4d4" stroke-width="0.8"/>
<line x1="32.4" y1="222.2" x2="32.4" y2="260.0" stroke="#d2d2d2" stroke-width="1.1"/>
<line x1="53.0" y1="221.1" x2="53.0" y2="255.0" stroke="#d2d2d2" stroke-width="1.1"/>
<line x1="112.5" y1="224.7" x2="112.5" y2="265.0" stroke="#d2d2d2" stroke-width="1.1"/>
<line x1="131.7" y1="223.9" x2="131.7" y2="261.0" stroke="#d2d2d2" stroke-width="1.1"/>
<line x1="151.0" y1="223.8" x2="151.0" y2="278.0" stroke="#d2d2d2" stroke-width="1.1"/>
<line x1="170.0" y1="224.2" x2="170.0" y2="286.0" stroke="#d2d2d2" stroke-width="1.1"/>
<line x1="188.2" y1="224.6" x2="188.2" y2="287.0" stroke="#d2d2d2" stroke-width="1.1"/>
<line x1="206.1" y1="224.7" x2="206.1" y2="280.0" stroke="#d2d2d2" stroke-width="1.1"/>
<line x1="224.9" y1="224.9" x2="224.9" y2="283.0" stroke="#d2d2d2" stroke-width="1.1"/>
<line x1="242.4" y1="225.3" x2="242.4" y2="278.0" stroke="#d2d2d2" stroke-width="1.1"/>
<line x1="259.8" y1="226.6" x2="259.8" y2="280.5" stroke="#d2d2d2" stroke-width="1.1"/>
<line x1="277.5" y1="227.6" x2="277.5" y2="273.3" stroke="#d2d2d2" stroke-width="1.1"/>
<line x1="293.4" y1="229.2" x2="293.4" y2="267.2" stroke="#d2d2d2" stroke-width="1.1"/>
<line x1="309.8" y1="232.3" x2="309.8" y2="244.0" stroke="#d2d2d2" stroke-width="1.1"/>
<line x1="326.7" y1="236.4" x2="326.7" y2="255.0" stroke="#d2d2d2" stroke-width="1.1"/>
<line x1="343.0" y1="239.1" x2="343.0" y2="246.0" stroke="#d2d2d2" stroke-width="1.1"/>
<polygon points="80,232 93.5,232 93,262 92.4,288 91.6,288 86,270 82,258" fill="#dedede"/>
<line x1="82" y1="240" x2="82" y2="258" stroke="#cfcfcf" stroke-width="0.8"/>
<line x1="84" y1="240" x2="84" y2="266" stroke="#cfcfcf" stroke-width="0.8"/>
<line x1="85.5" y1="240" x2="85.5" y2="272" stroke="#cfcfcf" stroke-width="0.8"/>
<line x1="87" y1="240" x2="87" y2="278" stroke="#cfcfcf" stroke-width="0.8"/>
<line x1="88.5" y1="240" x2="88.5" y2="283" stroke="#cfcfcf" stroke-width="0.8"/>
<line x1="90" y1="240" x2="90" y2="286" stroke="#cfcfcf" stroke-width="0.8"/>
<line x1="91.5" y1="240" x2="91.5" y2="288" stroke="#cfcfcf" stroke-width="0.8"/>
<polygon points="32.4,220.4 34.1,222.8 33.1,225.7 33.0,251.5 31.8,251.5 31.7,225.7 30.7,222.8" fill="url(#redg)"/>
<polygon points="53.0,219.3 54.7,221.7 53.7,224.6 53.6,245.0 52.4,245.0 52.3,224.6 51.3,221.7" fill="url(#redg)"/>
<polygon points="112.5,222.9 114.2,225.3 113.2,228.2 113.1,240.0 111.9,240.0 111.8,228.2 110.8,225.3" fill="url(#redg)"/>
<polygon points="131.7,222.1 133.4,224.5 132.4,227.4 132.3,242.0 131.1,242.0 131.0,227.4 130.0,224.5" fill="url(#redg)"/>
<polygon points="151.0,221.9 152.7,224.3 151.7,227.2 151.6,244.0 150.4,244.0 150.3,227.2 149.3,224.3" fill="url(#redg)"/>
<polygon points="170.0,222.4 171.7,224.8 170.7,227.8 170.6,255.0 169.4,255.0 169.3,227.8 168.3,224.8" fill="url(#redg)"/>
<polygon points="188.2,222.8 189.9,225.2 188.9,228.1 188.8,266.0 187.6,266.0 187.5,228.1 186.5,225.2" fill="url(#redg)"/>
<polygon points="206.1,222.9 207.8,225.3 206.8,228.2 206.7,259.0 205.5,259.0 205.4,228.2 204.4,225.3" fill="url(#redg)"/>
<polygon points="224.9,223.1 226.6,225.5 225.6,228.4 225.5,257.0 224.3,257.0 224.2,228.4 223.2,225.5" fill="url(#redg)"/>
<polygon points="242.4,223.5 244.1,225.9 243.1,228.8 243.0,262.0 241.8,262.0 241.7,228.8 240.7,225.9" fill="url(#redg)"/>
<polygon points="259.8,224.8 261.5,227.2 260.5,230.1 260.4,258.7 259.2,258.7 259.1,230.1 258.1,227.2" fill="url(#redg)"/>
<polygon points="277.5,225.8 279.2,228.2 278.2,231.1 278.1,258.0 276.9,258.0 276.8,231.1 275.8,228.2" fill="url(#redg)"/>
<polygon points="293.4,227.4 295.1,229.8 294.1,232.7 294.0,246.6 292.8,246.6 292.7,232.7 291.7,229.8" fill="url(#redg)"/>
<polygon points="309.8,230.5 311.5,232.9 310.5,235.8 310.4,239.3 309.2,239.3 309.1,235.8 308.1,232.9" fill="url(#redg)"/>
<polygon points="326.7,234.6 328.4,237.0 327.4,239.9 327.3,243.0 326.1,243.0 326.0,239.9 325.0,237.0" fill="url(#redg)"/>
<polygon points="343.0,237.3 344.7,239.7 343.7,242.6 343.6,241.5 342.4,241.5 342.3,242.6 341.3,239.7" fill="url(#redg)"/>
<polygon points="80.5,221 86,221 86,250 84,247 82,243 80.5,238" fill="#f07070" opacity="0.45"/>
<polygon points="86,221 93.5,221 93.5,250 92.6,262 90.5,263 88.5,258 86,252" fill="#f04444" opacity="0.75"/>
<line x1="80.8" y1="224" x2="80.8" y2="240" stroke="#f03a3a" stroke-width="0.8" opacity="0.6"/>
<line x1="82.4" y1="224" x2="82.4" y2="246" stroke="#f03a3a" stroke-width="0.8" opacity="0.6"/>
<line x1="84" y1="224" x2="84" y2="250" stroke="#f03a3a" stroke-width="0.8" opacity="0.6"/>
<line x1="85.5" y1="224" x2="85.5" y2="253" stroke="#f03a3a" stroke-width="0.8" opacity="0.6"/>
<line x1="87.2" y1="224" x2="87.2" y2="257" stroke="#f03a3a" stroke-width="0.8" opacity="0.6"/>
<line x1="89" y1="224" x2="89" y2="261" stroke="#f03a3a" stroke-width="0.8" opacity="0.6"/>
<line x1="90.8" y1="224" x2="90.8" y2="263" stroke="#f03a3a" stroke-width="0.8" opacity="0.6"/>
<line x1="92.6" y1="224" x2="92.6" y2="260" stroke="#f03a3a" stroke-width="0.8" opacity="0.6"/>
<polyline points="30.8,223.4 31.1,223.6 31.5,223.8 32.0,224.0 32.5,223.9 33.0,223.6 33.6,223.1 34.2,222.6 34.8,222.2 35.5,222.0 36.1,221.9 36.7,221.8 37.2,221.8 37.7,221.8 38.2,221.8 38.7,221.9 39.2,221.9 39.6,222.0 40.1,222.1 40.6,222.2 41.1,222.3 41.6,222.3 42.2,222.4 42.8,222.4 43.4,222.4 43.8,222.4 44.3,222.3 44.8,222.3 45.3,222.2 45.8,222.2 46.4,222.1 46.9,222.0 47.4,221.9 48.0,221.8 48.6,221.8 49.1,221.7 49.6,221.6 50.2,221.6 50.7,221.7 51.2,221.8 51.7,222.1 52.2,222.5 52.6,222.7 53.2,222.8 53.8,222.6 54.3,222.3 54.8,222.1 55.3,222.0 55.8,222.0 56.3,222.1 56.7,222.3 57.2,222.4 57.7,222.6 58.2,222.7 58.8,222.9 59.3,223.0 59.8,223.1 60.2,223.3 60.7,223.4 61.3,223.5 61.8,223.7 62.3,223.8 62.8,224.0 63.3,224.1 63.9,224.3 64.4,224.4 64.9,224.5 65.5,224.7 66.0,224.8 66.5,224.9 67.0,225.0 67.5,225.1 68.0,225.2 68.6,225.3 69.1,225.4 69.6,225.5 70.1,225.6 70.6,225.7 71.1,225.7 71.6,225.8 72.2,225.9 72.7,226.0 73.2,226.1 73.7,226.3 74.2,226.4 74.7,226.5 75.2,226.7 75.7,226.8 76.3,227.0 76.8,227.2 77.3,227.3 77.8,227.5 78.4,227.7 78.9,227.9 79.4,228.1 79.9,228.3 80.4,228.4 80.9,228.6 81.3,228.8 81.8,229.0 82.4,229.2 83.0,229.5 83.5,229.8 84.1,230.0 84.6,230.3 85.2,230.6 85.7,230.9 86.2,231.1 86.7,231.4 87.2,231.6 87.6,231.8 88.0,231.9 88.7,232.1 89.3,232.2 89.7,232.3 90.2,232.2 90.6,232.1 91.0,232.0 91.5,231.7 92.1,231.4 92.5,230.9 93.0,230.4 93.5,229.9 94.0,229.1 94.4,228.3 94.9,227.4 95.7,226.7 96.1,226.5 96.5,226.3 96.9,226.1 97.4,225.9 98.0,225.7 98.5,225.6 99.1,225.4 99.6,225.3 100.2,225.2 100.7,225.1 101.3,225.0 101.8,224.9 102.3,224.9 102.8,224.8 103.2,224.8 103.6,224.9 104.1,224.9 104.5,225.0 105.0,225.0 105.5,225.1 106.0,225.1 106.6,225.2 107.3,225.2 108.0,225.2 108.4,225.2 108.8,225.2 109.2,225.2 109.7,225.3 110.2,225.4 110.6,225.6 111.1,225.9 111.6,226.2 112.2,226.5 112.7,226.6 113.2,226.3 113.8,225.9 114.3,225.5 114.8,225.3 115.4,225.2 115.9,225.1 116.5,225.1 117.0,225.1 117.5,225.1 118.0,225.1 118.6,225.0 119.1,225.0 119.5,225.0 120.0,225.0 120.5,225.0 121.1,225.0 121.6,224.9 122.1,224.9 122.6,224.9 123.1,224.8 123.6,224.8 124.0,224.8 124.5,224.8 125.0,224.7 125.5,224.7 126.0,224.7 126.4,224.6 126.9,224.6 127.4,224.6 127.9,224.5 128.4,224.5 128.9,224.5 129.5,224.6 130.0,224.9 130.5,225.1 130.9,225.4 131.4,225.7 131.8,225.7 132.3,225.5 132.7,225.2 133.2,224.8 133.6,224.5 134.1,224.3 134.6,224.2 135.0,224.1 135.5,224.1 136.0,224.1 136.5,224.0 137.0,224.0 137.5,224.0 138.0,224.0 138.5,224.0 139.1,223.9 139.6,223.9 140.2,223.9 140.8,223.9 141.4,223.9 142.0,223.9 142.4,223.9 142.8,223.9 143.3,223.9 143.7,223.9 144.2,223.9 144.6,223.9 145.1,223.9 145.6,223.9 146.0,224.0 146.5,224.0 147.0,224.0 147.5,224.0 148.0,224.0 148.5,224.1 149.0,224.3 149.5,224.6 150.0,225.0 150.5,225.4 151.0,225.5 151.5,225.4 152.1,225.0 152.6,224.7 153.1,224.4 153.6,224.3 154.2,224.2 154.7,224.2 155.2,224.3 155.8,224.3 156.3,224.3 156.8,224.3 157.3,224.3 157.9,224.3 158.4,224.4 158.9,224.4 159.5,224.4 160.0,224.4 160.5,224.4 160.9,224.4 161.4,224.4 161.8,224.5 162.3,224.5 162.7,224.5 163.1,224.5 163.6,224.5 164.0,224.5 164.4,224.5 164.8,224.5 165.2,224.6 165.6,224.6 166.1,224.6 166.5,224.6 166.9,224.6 167.3,224.7 167.8,224.8 168.2,225.0 168.6,225.3 169.1,225.7 169.5,226.0 170.0,226.1 170.5,226.0 170.9,225.7 171.4,225.4 171.9,225.1 172.5,224.9 173.0,224.8 173.5,224.8 174.1,224.8 174.7,224.8 175.3,224.8 175.9,224.8 176.5,224.8 177.2,224.9 177.9,224.9 178.5,224.9 179.3,224.9 180.0,224.9 180.4,224.9 180.8,224.9 181.2,224.9 181.6,224.9 182.0,224.9 182.4,224.9 182.8,224.9 183.3,224.9 183.7,224.9 184.1,224.9 184.6,225.0 185.1,225.0 185.5,225.0 186.0,225.2 186.5,225.4 187.0,225.7 187.4,226.1 187.9,226.3 188.4,226.3 188.9,226.1 189.5,225.7 190.0,225.4 190.5,225.2 191.0,225.1 191.5,225.0 192.1,225.0 192.6,225.0 193.1,225.0 193.7,225.0 194.2,225.0 194.7,225.0 195.3,225.0 195.8,225.0 196.4,225.0 196.9,225.0 197.5,225.0 198.0,225.0 198.6,225.0 199.1,225.0 199.7,225.0 200.2,225.0 200.8,225.0 201.4,225.1 201.9,225.1 202.5,225.1 203.0,225.1 203.6,225.2 204.1,225.4 204.7,225.7 205.2,226.1 205.8,226.4 206.3,226.5 206.9,226.2 207.4,225.8 207.9,225.5 208.5,225.2 209.0,225.1 209.5,225.1 210.1,225.1 210.6,225.1 211.1,225.1 211.6,225.1 212.1,225.1 212.6,225.1 213.1,225.1 213.6,225.1 214.1,225.1 214.6,225.1 215.1,225.1 215.6,225.1 216.1,225.2 216.5,225.2 217.0,225.2 217.4,225.2 217.9,225.2 218.3,225.2 218.7,225.2 219.2,225.2 219.6,225.2 220.0,225.2 220.6,225.2 221.3,225.2 221.9,225.3 222.5,225.4 223.2,225.7 223.8,226.1 224.4,226.5 225.0,226.7 225.5,226.5 226.1,226.1 226.7,225.7 227.3,225.5 227.8,225.4 228.4,225.3 228.9,225.3 229.5,225.3 230.0,225.4 230.5,225.4 231.0,225.4 231.6,225.4 232.1,225.4 232.6,225.4 233.1,225.4 233.6,225.4 234.1,225.4 234.5,225.5 235.0,225.5 235.5,225.5 236.0,225.5 236.4,225.5 236.9,225.5 237.4,225.5 237.8,225.5 238.3,225.6 238.7,225.6 239.1,225.6 239.6,225.7 240.0,225.8 240.5,225.9 240.9,226.2 241.3,226.5 241.7,226.8 242.1,227.0 242.6,227.1 243.0,226.9 243.4,226.7 243.8,226.4 244.2,226.2 244.6,226.0 245.0,225.9 245.7,225.9 246.3,225.9 246.9,225.9 247.5,225.9 248.1,226.0 248.6,226.0 249.1,226.0 249.7,226.1 250.2,226.1 250.7,226.2 251.2,226.2 251.6,226.2 252.1,226.3 252.5,226.3 253.0,226.4 253.4,226.4 253.9,226.5 254.3,226.5 254.8,226.5 255.2,226.6 255.7,226.6 256.1,226.7 256.6,226.7 257.0,226.8 257.5,227.0 258.0,227.2 258.5,227.6 259.0,228.0 259.5,228.3 260.0,228.4 260.5,228.2 261.0,227.9 261.4,227.6 261.9,227.4 262.4,227.3 262.9,227.2 263.4,227.2 263.9,227.2 264.5,227.3 265.0,227.3 265.5,227.3 266.0,227.4 266.5,227.4 267.1,227.4 267.6,227.4 268.1,227.5 268.6,227.5 269.1,227.5 269.7,227.6 270.2,227.6 270.7,227.6 271.2,227.6 271.7,227.7 272.2,227.7 272.7,227.7 273.2,227.8 273.7,227.8 274.2,227.8 274.7,227.9 275.2,228.0 275.6,228.3 276.1,228.6 276.6,229.0 277.0,229.3 277.6,229.4 278.1,229.3 278.7,228.9 279.2,228.6 279.8,228.4 280.3,228.3 280.8,228.3 281.3,228.3 281.9,228.4 282.4,228.4 282.9,228.4 283.4,228.5 283.8,228.5 284.3,228.5 284.8,228.6 285.3,228.6 285.8,228.7 286.2,228.7 286.7,228.8 287.2,228.8 287.7,228.8 288.1,228.9 288.6,228.9 289.1,229.0 289.5,229.1 290.0,229.1 290.5,229.2 291.1,229.4 291.6,229.7 292.1,230.1 292.7,230.6 293.2,230.9 293.7,230.9 294.2,230.7 294.8,230.4 295.3,230.1 295.8,230.0 296.3,230.0 296.8,230.0 297.3,230.1 297.8,230.2 298.3,230.2 298.8,230.3 299.3,230.4 299.7,230.5 300.2,230.6 300.6,230.6 301.1,230.7 301.5,230.8 302.1,230.9 302.7,231.0 303.2,231.1 303.7,231.3 304.2,231.4 304.7,231.5 305.2,231.6 305.7,231.7 306.2,231.8 306.6,232.0 307.1,232.2 307.6,232.4 308.1,232.7 308.6,233.2 309.1,233.7 309.6,234.1 310.1,234.2 310.6,234.0 311.1,233.8 311.6,233.6 312.1,233.5 312.7,233.5 313.2,233.6 313.7,233.7 314.3,233.9 314.8,234.0 315.3,234.1 315.8,234.3 316.4,234.4 316.9,234.5 317.4,234.6 317.9,234.8 318.3,234.9 318.8,235.0 319.4,235.1 320.0,235.3 320.5,235.4 321.1,235.6 321.6,235.7 322.1,235.8 322.7,235.9 323.2,236.1 323.7,236.2 324.2,236.4 324.6,236.7 325.1,237.0 325.6,237.4 326.0,237.9 326.6,238.2 327.1,238.2 327.6,238.0 328.0,237.8 328.5,237.6 328.9,237.4 329.4,237.4 329.9,237.4 330.4,237.5 331.0,237.6 331.4,237.7 331.9,237.8 332.4,237.9 332.8,237.9 333.3,238.0 333.8,238.1 334.3,238.2 334.8,238.3 335.3,238.4 335.9,238.5 336.5,238.6 337.1,238.7 337.7,238.8 338.4,238.9 338.8,239.0 339.3,239.0 339.8,239.1 340.3,239.2 340.8,239.4 341.3,239.7 341.9,240.2 342.4,240.6 343.0,240.8 343.6,240.7 344.1,240.4 344.7,240.1 345.3,239.9 345.8,239.8 346.4,239.8 346.9,239.9 347.4,239.9 347.9,240.0 348.4,240.1 348.8,240.1 349.3,240.2 349.6,240.2 350.0,240.3 350.9,240.5 351.5,240.6 352.0,240.8 352.4,241.0 352.8,241.2 353.1,241.3 353.5,241.5 354.0,241.7 354.5,241.9 354.9,242.1 355.4,242.3 355.9,242.6 356.4,242.8 356.9,243.0 357.4,243.2 357.9,243.3 358.5,243.4 358.9,243.4 359.4,243.5 359.8,243.5 360.2,243.5 360.7,243.5 361.1,243.4 361.6,243.4 362.1,243.3 362.7,243.2 363.3,243.2 363.9,243.1 364.6,243.0 365.0,242.9 365.4,242.9 365.9,242.8 366.3,242.8 366.8,242.7 367.3,242.6 367.8,242.5 368.3,242.5 368.9,242.4 369.4,242.3 369.9,242.2 370.5,242.1 371.0,242.0 371.6,242.0 372.1,241.9 372.7,241.8 373.3,241.7 373.8,241.6 374.4,241.5 374.9,241.4 375.5,241.3 376.0,241.2 376.5,241.1 377.0,241.0 377.5,240.9 378.0,240.8 378.5,240.8 379.0,240.7 379.5,240.6 380.0,240.5 380.5,240.4 381.0,240.3 381.5,240.2 382.0,240.1 382.5,240.0 383.0,239.9 383.5,239.8 384.1,239.7 384.6,239.6 385.1,239.5 385.6,239.4 386.1,239.3 386.5,239.2 387.0,239.1 387.5,239.0 388.0,238.9 388.5,238.8 389.1,238.7 389.6,238.6 390.1,238.5 390.6,238.4 391.2,238.3 391.7,238.2 392.2,238.1 392.8,238.0 393.3,237.9 393.8,237.8 394.3,237.7 394.8,237.6 395.3,237.5 395.8,237.4 396.3,237.3 396.8,237.2 397.3,237.1 397.7,237.0 398.2,236.9 398.6,236.7 399.0,236.6 399.6,236.4 400.2,236.2 400.7,235.9 401.2,235.7 401.7,235.4 402.2,235.2 402.6,234.9 403.0,234.7 403.5,234.4 403.9,234.1 404.4,233.9 404.9,233.6 405.4,233.4 406.0,233.1 406.5,232.9 407.0,232.7 407.5,232.5 408.0,232.3 408.5,232.1 409.0,231.9 409.6,231.7 410.2,231.5 410.7,231.2 411.3,231.0 411.8,230.8 412.4,230.6 412.9,230.4 413.4,230.3 414.0,230.1 414.5,229.9 414.9,229.8 415.4,229.6 416.0,229.4 416.6,229.2 417.1,229.1 417.6,228.9 418.0,228.8 418.5,228.6 419.0,228.5 419.4,228.4 419.9,228.3 420.4,228.1 421.0,228.0 421.6,227.9 422.3,227.8 422.7,227.7 423.1,227.7 423.5,227.6 424.0,227.5 424.4,227.5 424.9,227.4 425.3,227.4 425.8,227.3 426.2,227.3 426.7,227.2 427.2,227.2 427.7,227.1 428.2,227.0 428.7,227.0 429.3,226.9 429.8,226.9 430.3,226.9 430.9,226.8 431.5,226.8 432.0,226.7 432.6,226.7 433.2,226.6 433.8,226.6 434.2,226.6 434.7,226.5 435.2,226.5 435.7,226.5 436.2,226.5 436.7,226.4 437.2,226.4 437.7,226.4 438.3,226.4 438.8,226.4 439.4,226.3 439.9,226.3 440.5,226.3 441.0,226.3 441.6,226.3 442.2,226.2 442.7,226.2 443.3,226.2 443.8,226.2 444.4,226.2 444.9,226.2 445.4,226.1 445.9,226.1 446.5,226.1 447.0,226.1 447.4,226.1 447.9,226.1 448.4,226.1 448.8,226.0 449.2,226.0 449.6,226.0 450.0,226.0 450.8,226.0 451.4,225.9 451.9,225.9 452.3,225.8 452.7,225.8 453.0,225.8 453.3,225.7 453.7,225.7 454.0,225.7 454.5,225.6 455.0,225.6 455.7,225.6 456.4,225.7 457.4,225.7 457.7,225.7 458.1,225.7 458.5,225.7 458.9,225.8 459.3,225.8 459.7,225.8 460.1,225.8 460.6,225.9 461.1,225.9 461.5,225.9 462.0,225.9 462.5,226.0 463.0,226.0 463.5,226.0 464.1,226.1 464.6,226.1 465.1,226.1 465.7,226.2 466.2,226.2 466.8,226.2 467.3,226.3 467.9,226.3 468.4,226.3 469.0,226.4 469.6,226.4 470.0,226.6 470.3,226.6 470.6,226.6 470.9,226.6 471.3,226.6 471.7,226.6 472.1,226.6 472.5,226.6 473.0,226.6 473.5,226.6 474.0,226.6 474.5,226.6 475.1,226.6 475.6,226.6 476.2,226.6 476.8,226.6 477.3,226.6 477.9,226.6 478.5,226.6 479.1,226.6 479.7,226.6 480.2,226.6 480.8,226.6 481.4,226.6 482.0,226.6 482.5,226.6 483.0,226.6 483.6,226.6 484.1,226.6 484.5,226.6 485.0,226.6 485.6,226.6 486.1,226.6 486.7,226.6 487.2,226.5 487.7,226.5 488.2,226.5 488.7,226.4 489.3,226.4 489.8,226.4 490.3,226.4 490.8,226.3 491.2,226.3 491.7,226.3 492.2,226.2 492.7,226.2 493.2,226.2 493.7,226.1 494.1,226.1 494.6,226.1 495.1,226.1 495.6,226.0 496.0,226.0 496.5,226.0 497.0,226.0 497.5,226.0 498.0,226.0 498.6,226.0 499.1,226.0 499.6,226.0 500.1,226.0 500.6,226.0 501.1,226.0 501.6,226.0 502.1,226.0 502.6,226.0 503.1,226.0 503.6,226.1 504.1,226.1 504.6,226.1 505.1,226.1 505.6,226.1 506.1,226.1 506.6,226.1 507.0,226.2 507.5,226.2 508.0,226.2 508.5,226.2 509.1,226.2 509.7,226.3 510.2,226.3 510.8,226.3 511.4,226.4 512.0,226.4 512.6,226.4 513.2,226.5 513.7,226.5 514.3,226.5 514.8,226.6 515.3,226.6 515.8,226.7 516.3,226.7 516.7,226.7 517.1,226.7 517.5,226.8 517.8,226.8 518.1,226.8" fill="none" stroke="#ee4a4a" stroke-width="1.3"/>
<polyline points="30.8,223.0 31.1,223.2 31.5,223.4 32.0,223.6 32.5,223.5 33.0,223.2 33.6,222.7 34.2,222.2 34.8,221.8 35.5,221.6 36.1,221.5 36.7,221.4 37.2,221.4 37.7,221.4 38.2,221.4 38.7,221.5 39.2,221.5 39.6,221.6 40.1,221.7 40.6,221.8 41.1,221.9 41.6,221.9 42.2,222.0 42.8,222.0 43.4,222.0 43.8,222.0 44.3,221.9 44.8,221.9 45.3,221.8 45.8,221.8 46.4,221.7 46.9,221.6 47.4,221.5 48.0,221.4 48.6,221.4 49.1,221.3 49.6,221.2 50.2,221.2 50.7,221.3 51.2,221.4 51.7,221.7 52.2,222.1 52.6,222.3 53.2,222.4 53.8,222.2 54.3,221.9 54.8,221.7 55.3,221.6 55.8,221.6 56.3,221.7 56.7,221.9 57.2,222.0 57.7,222.2 58.2,222.3 58.8,222.5 59.3,222.6 59.8,222.7 60.2,222.9 60.7,223.0 61.3,223.1 61.8,223.3 62.3,223.4 62.8,223.6 63.3,223.7 63.9,223.9 64.4,224.0 64.9,224.1 65.5,224.3 66.0,224.4 66.5,224.5 67.0,224.6 67.5,224.7 68.0,224.8 68.6,224.9 69.1,225.0 69.6,225.1 70.1,225.2 70.6,225.3 71.1,225.3 71.6,225.4 72.2,225.5 72.7,225.6 73.2,225.7 73.7,225.9 74.2,226.0 74.7,226.1 75.2,226.3 75.7,226.4 76.3,226.6 76.8,226.8 77.3,226.9 77.8,227.1 78.4,227.3 78.9,227.5 79.4,227.7 79.9,227.9 80.4,228.0 80.9,228.2 81.3,228.4 81.8,228.6 82.4,228.8 83.0,229.1 83.5,229.4 84.1,229.6 84.6,229.9 85.2,230.2 85.7,230.5 86.2,230.7 86.7,231.0 87.2,231.2 87.6,231.4 88.0,231.5 88.7,231.7 89.3,231.8 89.7,231.9 90.2,231.8 90.6,231.7 91.0,231.6 91.5,231.3 92.1,231.0 92.5,230.5 93.0,230.0 93.5,229.5 94.0,228.7 94.4,227.9 94.9,227.0 95.7,226.3 96.1,226.1 96.5,225.9 96.9,225.7 97.4,225.5 98.0,225.3 98.5,225.2 99.1,225.0 99.6,224.9 100.2,224.8 100.7,224.7 101.3,224.6 101.8,224.5 102.3,224.5 102.8,224.4 103.2,224.4 103.6,224.5 104.1,224.5 104.5,224.6 105.0,224.6 105.5,224.7 106.0,224.7 106.6,224.8 107.3,224.8 108.0,224.8 108.4,224.8 108.8,224.8 109.2,224.8 109.7,224.9 110.2,225.0 110.6,225.2 111.1,225.5 111.6,225.8 112.2,226.1 112.7,226.2 113.2,225.9 113.8,225.5 114.3,225.1 114.8,224.9 115.4,224.8 115.9,224.7 116.5,224.7 117.0,224.7 117.5,224.7 118.0,224.7 118.6,224.6 119.1,224.6 119.5,224.6 120.0,224.6 120.5,224.6 121.1,224.6 121.6,224.5 122.1,224.5 122.6,224.5 123.1,224.4 123.6,224.4 124.0,224.4 124.5,224.4 125.0,224.3 125.5,224.3 126.0,224.3 126.4,224.2 126.9,224.2 127.4,224.2 127.9,224.1 128.4,224.1 128.9,224.1 129.5,224.2 130.0,224.5 130.5,224.7 130.9,225.0 131.4,225.3 131.8,225.3 132.3,225.1 132.7,224.8 133.2,224.4 133.6,224.1 134.1,223.9 134.6,223.8 135.0,223.7 135.5,223.7 136.0,223.7 136.5,223.6 137.0,223.6 137.5,223.6 138.0,223.6 138.5,223.6 139.1,223.5 139.6,223.5 140.2,223.5 140.8,223.5 141.4,223.5 142.0,223.5 142.4,223.5 142.8,223.5 143.3,223.5 143.7,223.5 144.2,223.5 144.6,223.5 145.1,223.5 145.6,223.5 146.0,223.6 146.5,223.6 147.0,223.6 147.5,223.6 148.0,223.6 148.5,223.7 149.0,223.9 149.5,224.2 150.0,224.6 150.5,225.0 151.0,225.1 151.5,225.0 152.1,224.6 152.6,224.3 153.1,224.0 153.6,223.9 154.2,223.8 154.7,223.8 155.2,223.9 155.8,223.9 156.3,223.9 156.8,223.9 157.3,223.9 157.9,223.9 158.4,224.0 158.9,224.0 159.5,224.0 160.0,224.0 160.5,224.0 160.9,224.0 161.4,224.0 161.8,224.1 162.3,224.1 162.7,224.1 163.1,224.1 163.6,224.1 164.0,224.1 164.4,224.1 164.8,224.1 165.2,224.2 165.6,224.2 166.1,224.2 166.5,224.2 166.9,224.2 167.3,224.3 167.8,224.4 168.2,224.6 168.6,224.9 169.1,225.3 169.5,225.6 170.0,225.7 170.5,225.6 170.9,225.3 171.4,225.0 171.9,224.7 172.5,224.5 173.0,224.4 173.5,224.4 174.1,224.4 174.7,224.4 175.3,224.4 175.9,224.4 176.5,224.4 177.2,224.5 177.9,224.5 178.5,224.5 179.3,224.5 180.0,224.5 180.4,224.5 180.8,224.5 181.2,224.5 181.6,224.5 182.0,224.5 182.4,224.5 182.8,224.5 183.3,224.5 183.7,224.5 184.1,224.5 184.6,224.6 185.1,224.6 185.5,224.6 186.0,224.8 186.5,225.0 187.0,225.3 187.4,225.7 187.9,225.9 188.4,225.9 188.9,225.7 189.5,225.3 190.0,225.0 190.5,224.8 191.0,224.7 191.5,224.6 192.1,224.6 192.6,224.6 193.1,224.6 193.7,224.6 194.2,224.6 194.7,224.6 195.3,224.6 195.8,224.6 196.4,224.6 196.9,224.6 197.5,224.6 198.0,224.6 198.6,224.6 199.1,224.6 199.7,224.6 200.2,224.6 200.8,224.6 201.4,224.7 201.9,224.7 202.5,224.7 203.0,224.7 203.6,224.8 204.1,225.0 204.7,225.3 205.2,225.7 205.8,226.0 206.3,226.1 206.9,225.8 207.4,225.4 207.9,225.1 208.5,224.8 209.0,224.7 209.5,224.7 210.1,224.7 210.6,224.7 211.1,224.7 211.6,224.7 212.1,224.7 212.6,224.7 213.1,224.7 213.6,224.7 214.1,224.7 214.6,224.7 215.1,224.7 215.6,224.7 216.1,224.8 216.5,224.8 217.0,224.8 217.4,224.8 217.9,224.8 218.3,224.8 218.7,224.8 219.2,224.8 219.6,224.8 220.0,224.8 220.6,224.8 221.3,224.8 221.9,224.9 222.5,225.0 223.2,225.3 223.8,225.7 224.4,226.1 225.0,226.3 225.5,226.1 226.1,225.7 226.7,225.3 227.3,225.1 227.8,225.0 228.4,224.9 228.9,224.9 229.5,224.9 230.0,225.0 230.5,225.0 231.0,225.0 231.6,225.0 232.1,225.0 232.6,225.0 233.1,225.0 233.6,225.0 234.1,225.0 234.5,225.1 235.0,225.1 235.5,225.1 236.0,225.1 236.4,225.1 236.9,225.1 237.4,225.1 237.8,225.1 238.3,225.2 238.7,225.2 239.1,225.2 239.6,225.3 240.0,225.4 240.5,225.5 240.9,225.8 241.3,226.1 241.7,226.4 242.1,226.6 242.6,226.7 243.0,226.5 243.4,226.3 243.8,226.0 244.2,225.8 244.6,225.6 245.0,225.5 245.7,225.5 246.3,225.5 246.9,225.5 247.5,225.5 248.1,225.6 248.6,225.6 249.1,225.6 249.7,225.7 250.2,225.7 250.7,225.8 251.2,225.8 251.6,225.8 252.1,225.9 252.5,225.9 253.0,226.0 253.4,226.0 253.9,226.1 254.3,226.1 254.8,226.1 255.2,226.2 255.7,226.2 256.1,226.3 256.6,226.3 257.0,226.4 257.5,226.6 258.0,226.8 258.5,227.2 259.0,227.6 259.5,227.9 260.0,228.0 260.5,227.8 261.0,227.5 261.4,227.2 261.9,227.0 262.4,226.9 262.9,226.8 263.4,226.8 263.9,226.8 264.5,226.9 265.0,226.9 265.5,226.9 266.0,227.0 266.5,227.0 267.1,227.0 267.6,227.0 268.1,227.1 268.6,227.1 269.1,227.1 269.7,227.2 270.2,227.2 270.7,227.2 271.2,227.2 271.7,227.3 272.2,227.3 272.7,227.3 273.2,227.4 273.7,227.4 274.2,227.4 274.7,227.5 275.2,227.6 275.6,227.9 276.1,228.2 276.6,228.6 277.0,228.9 277.6,229.0 278.1,228.9 278.7,228.5 279.2,228.2 279.8,228.0 280.3,227.9 280.8,227.9 281.3,227.9 281.9,228.0 282.4,228.0 282.9,228.0 283.4,228.1 283.8,228.1 284.3,228.1 284.8,228.2 285.3,228.2 285.8,228.3 286.2,228.3 286.7,228.4 287.2,228.4 287.7,228.4 288.1,228.5 288.6,228.5 289.1,228.6 289.5,228.7 290.0,228.7 290.5,228.8 291.1,229.0 291.6,229.3 292.1,229.7 292.7,230.2 293.2,230.5 293.7,230.5 294.2,230.3 294.8,230.0 295.3,229.7 295.8,229.6 296.3,229.6 296.8,229.6 297.3,229.7 297.8,229.8 298.3,229.8 298.8,229.9 299.3,230.0 299.7,230.1 300.2,230.2 300.6,230.2 301.1,230.3 301.5,230.4 302.1,230.5 302.7,230.6 303.2,230.7 303.7,230.9 304.2,231.0 304.7,231.1 305.2,231.2 305.7,231.3 306.2,231.4 306.6,231.6 307.1,231.8 307.6,232.0 308.1,232.3 308.6,232.8 309.1,233.3 309.6,233.7 310.1,233.8 310.6,233.6 311.1,233.4 311.6,233.2 312.1,233.1 312.7,233.1 313.2,233.2 313.7,233.3 314.3,233.5 314.8,233.6 315.3,233.7 315.8,233.9 316.4,234.0 316.9,234.1 317.4,234.2 317.9,234.4 318.3,234.5 318.8,234.6 319.4,234.7 320.0,234.9 320.5,235.0 321.1,235.2 321.6,235.3 322.1,235.4 322.7,235.5 323.2,235.7 323.7,235.8 324.2,236.0 324.6,236.3 325.1,236.6 325.6,237.0 326.0,237.5 326.6,237.8 327.1,237.8 327.6,237.6 328.0,237.4 328.5,237.2 328.9,237.0 329.4,237.0 329.9,237.0 330.4,237.1 331.0,237.2 331.4,237.3 331.9,237.4 332.4,237.5 332.8,237.5 333.3,237.6 333.8,237.7 334.3,237.8 334.8,237.9 335.3,238.0 335.9,238.1 336.5,238.2 337.1,238.3 337.7,238.4 338.4,238.5 338.8,238.6 339.3,238.6 339.8,238.7 340.3,238.8 340.8,239.0 341.3,239.3 341.9,239.8 342.4,240.2 343.0,240.4 343.6,240.3 344.1,240.0 344.7,239.7 345.3,239.5 345.8,239.4 346.4,239.4 346.9,239.5 347.4,239.5 347.9,239.6 348.4,239.7 348.8,239.7 349.3,239.8 349.6,239.8 350.0,239.9 350.9,240.1 351.5,240.2 352.0,240.4 352.4,240.6 352.8,240.8 353.1,240.9 353.5,241.1 354.0,241.3 354.5,241.5 354.9,241.7 355.4,241.9 355.9,242.2 356.4,242.4 356.9,242.6 357.4,242.8 357.9,242.9 358.5,243.0 358.9,243.0 359.4,243.1 359.8,243.1 360.2,243.1 360.7,243.1 361.1,243.0 361.6,243.0 362.1,242.9 362.7,242.8 363.3,242.8 363.9,242.7 364.6,242.6 365.0,242.5 365.4,242.5 365.9,242.4 366.3,242.4 366.8,242.3 367.3,242.2 367.8,242.1 368.3,242.1 368.9,242.0 369.4,241.9 369.9,241.8 370.5,241.7 371.0,241.6 371.6,241.6 372.1,241.5 372.7,241.4 373.3,241.3 373.8,241.2 374.4,241.1 374.9,241.0 375.5,240.9 376.0,240.8 376.5,240.7 377.0,240.6 377.5,240.5 378.0,240.4 378.5,240.4 379.0,240.3 379.5,240.2 380.0,240.1 380.5,240.0 381.0,239.9 381.5,239.8 382.0,239.7 382.5,239.6 383.0,239.5 383.5,239.4 384.1,239.3 384.6,239.2 385.1,239.1 385.6,239.0 386.1,238.9 386.5,238.8 387.0,238.7 387.5,238.6 388.0,238.5 388.5,238.4 389.1,238.3 389.6,238.2 390.1,238.1 390.6,238.0 391.2,237.9 391.7,237.8 392.2,237.7 392.8,237.6 393.3,237.5 393.8,237.4 394.3,237.3 394.8,237.2 395.3,237.1 395.8,237.0 396.3,236.9 396.8,236.8 397.3,236.7 397.7,236.6 398.2,236.5 398.6,236.3 399.0,236.2 399.6,236.0 400.2,235.8 400.7,235.5 401.2,235.3 401.7,235.0 402.2,234.8 402.6,234.5 403.0,234.3 403.5,234.0 403.9,233.7 404.4,233.5 404.9,233.2 405.4,233.0 406.0,232.7 406.5,232.5 407.0,232.3 407.5,232.1 408.0,231.9 408.5,231.7 409.0,231.5 409.6,231.3 410.2,231.1 410.7,230.8 411.3,230.6 411.8,230.4 412.4,230.2 412.9,230.0 413.4,229.9 414.0,229.7 414.5,229.5 414.9,229.4 415.4,229.2 416.0,229.0 416.6,228.8 417.1,228.7 417.6,228.5 418.0,228.4 418.5,228.2 419.0,228.1 419.4,228.0 419.9,227.9 420.4,227.7 421.0,227.6 421.6,227.5 422.3,227.4 422.7,227.3 423.1,227.3 423.5,227.2 424.0,227.1 424.4,227.1 424.9,227.0 425.3,227.0 425.8,226.9 426.2,226.9 426.7,226.8 427.2,226.8 427.7,226.7 428.2,226.6 428.7,226.6 429.3,226.5 429.8,226.5 430.3,226.5 430.9,226.4 431.5,226.4 432.0,226.3 432.6,226.3 433.2,226.2 433.8,226.2 434.2,226.2 434.7,226.1 435.2,226.1 435.7,226.1 436.2,226.1 436.7,226.0 437.2,226.0 437.7,226.0 438.3,226.0 438.8,226.0 439.4,225.9 439.9,225.9 440.5,225.9 441.0,225.9 441.6,225.9 442.2,225.8 442.7,225.8 443.3,225.8 443.8,225.8 444.4,225.8 444.9,225.8 445.4,225.7 445.9,225.7 446.5,225.7 447.0,225.7 447.4,225.7 447.9,225.7 448.4,225.7 448.8,225.6 449.2,225.6 449.6,225.6 450.0,225.6 450.8,225.6 451.4,225.5 451.9,225.5 452.3,225.4 452.7,225.4 453.0,225.4 453.3,225.3 453.7,225.3 454.0,225.3 454.5,225.2 455.0,225.2 455.7,225.2 456.4,225.3 457.4,225.3 457.7,225.3 458.1,225.3 458.5,225.3 458.9,225.4 459.3,225.4 459.7,225.4 460.1,225.4 460.6,225.5 461.1,225.5 461.5,225.5 462.0,225.5 462.5,225.6 463.0,225.6 463.5,225.6 464.1,225.7 464.6,225.7 465.1,225.7 465.7,225.8 466.2,225.8 466.8,225.8 467.3,225.9 467.9,225.9 468.4,225.9 469.0,226.0 469.6,226.0 470.1,226.1 470.7,226.1 471.2,226.1 471.8,226.2 472.4,226.2 472.9,226.3 473.5,226.3 474.0,226.3 474.5,226.4 475.1,226.4 475.6,226.5 476.1,226.5 476.6,226.6 477.1,226.6 477.6,226.6 478.1,226.7 478.5,226.7 479.0,226.8 479.4,226.8 480.0,226.9 480.6,226.9 481.1,227.0 481.7,227.0 482.2,227.1 482.7,227.2 483.2,227.2 483.7,227.3 484.2,227.4 484.7,227.4 485.2,227.5 485.6,227.6 486.1,227.6 486.6,227.7 487.0,227.8 487.5,227.8 487.9,227.9 488.4,228.0 488.9,228.1 489.3,228.1 489.8,228.2 490.3,228.3 490.8,228.3 491.3,228.4 491.8,228.5 492.3,228.6 492.9,228.6 493.4,228.7 494.0,228.8 494.6,228.8 495.2,228.9 495.6,228.9 496.1,229.0 496.6,229.0 497.1,229.1 497.6,229.1 498.1,229.2 498.6,229.2 499.1,229.3 499.7,229.4 500.3,229.4 500.8,229.5 501.4,229.5 502.0,229.6 502.6,229.6 503.2,229.7 503.8,229.7 504.3,229.8 504.9,229.8 505.5,229.9 506.1,229.9 506.7,230.0 507.3,230.1 507.9,230.1 508.5,230.2 509.1,230.2 509.7,230.3 510.2,230.3 510.8,230.4 511.4,230.4 511.9,230.5 512.4,230.5 512.9,230.5 513.5,230.6 513.9,230.6 514.4,230.7 514.9,230.7 515.3,230.8 515.7,230.8 516.1,230.8 516.5,230.9 516.9,230.9 517.2,230.9 517.5,230.9 517.8,231.0 518.1,231.0" fill="none" stroke="#5036d0" stroke-width="1.35" stroke-linejoin="round"/>
<rect x="30.5" y="219.5" width="488.0" height="69.9" fill="none" stroke="#444" stroke-width="1.1"/>
<line x1="91.5" y1="219.5" x2="91.5" y2="225.0" stroke="#333" stroke-width="0.9"/>
<line x1="91.5" y1="289.4" x2="91.5" y2="283.9" stroke="#333" stroke-width="0.9"/>
<text x="91.5" y="301.2" font-family="Liberation Sans, Arial, sans-serif" font-size="9.3" fill="#222" text-anchor="middle">180</text>
<line x1="213.7" y1="219.5" x2="213.7" y2="225.0" stroke="#333" stroke-width="0.9"/>
<line x1="213.7" y1="289.4" x2="213.7" y2="283.9" stroke="#333" stroke-width="0.9"/>
<text x="213.7" y="301.2" font-family="Liberation Sans, Arial, sans-serif" font-size="9.3" fill="#222" text-anchor="middle">182</text>
<line x1="335.9" y1="219.5" x2="335.9" y2="225.0" stroke="#333" stroke-width="0.9"/>
<line x1="335.9" y1="289.4" x2="335.9" y2="283.9" stroke="#333" stroke-width="0.9"/>
<text x="335.9" y="301.2" font-family="Liberation Sans, Arial, sans-serif" font-size="9.3" fill="#222" text-anchor="middle">184</text>
<line x1="458.1" y1="219.5" x2="458.1" y2="225.0" stroke="#333" stroke-width="0.9"/>
<line x1="458.1" y1="289.4" x2="458.1" y2="283.9" stroke="#333" stroke-width="0.9"/>
<text x="458.1" y="301.2" font-family="Liberation Sans, Arial, sans-serif" font-size="9.3" fill="#222" text-anchor="middle">186</text>
<line x1="30.5" y1="224.8" x2="35.5" y2="224.8" stroke="#333" stroke-width="0.9"/>
<text x="24" y="228.8" font-family="Liberation Sans, Arial, sans-serif" font-size="9.3" fill="#222" text-anchor="middle">1</text>
<text x="24.2" y="292.3" font-family="Liberation Sans, Arial, sans-serif" font-size="9.3" fill="#222" text-anchor="middle">0</text>
<text x="275" y="313.2" font-family="Liberation Sans, Arial, sans-serif" font-size="9.5" fill="#222" text-anchor="middle">Frequency (THz)</text>
<text x="0" y="0" font-family="Liberation Sans, Arial, sans-serif" font-size="10" fill="#222" text-anchor="middle" transform="translate(9.2,257.4) rotate(-90)">Baseline corr.</text>
<text x="0" y="0" font-family="Liberation Sans, Arial, sans-serif" font-size="9.6" fill="#222" text-anchor="middle" transform="translate(18.4,257.4) rotate(-90)">transmission</text></svg>
</body></html>
